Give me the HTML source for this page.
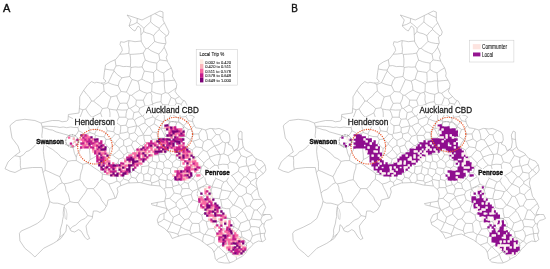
<!DOCTYPE html>
<html><head><meta charset="utf-8"><style>
html,body{margin:0;padding:0;background:#fff;}
svg{display:block;}
</style></head><body>
<svg width="550" height="269" viewBox="0 0 550 269">
<defs><filter id="bl" x="-5%" y="-5%" width="110%" height="110%"><feGaussianBlur stdDeviation="0.4"/></filter></defs>
<rect width="550" height="269" fill="#fff"/>
<g transform="translate(0,0)">
<path d="M260.3 233.7 260.3 233.6M264.8 233.3 260.3 233.6M260.3 233.7 260.6 237.6 261.9 241.6M14.9 155.7 20 156.7M20 156.7 20.4 160.4 20.3 165.7 21 169.4M45.1 170.2 48.2 171.4 52.9 173.6 55.9 175 59.7 176.6M59.7 176.6 61.9 172.6 63.3 169.4 66 165.2 67.8 161.4M45.1 170.2 45.2 166.4 45.1 162.1 44.2 158.6 43.7 154.8 43.3 151.2 43.7 146.5 43 143.1M67.8 161.4 64.7 158.9 61.1 157.3 58.4 154.1 55.6 151.9 52.8 149.6 48.6 147.3 45.9 145.3 43 143.1M20 156.7 23.6 154.7 26.1 151.7 29 150.7 32.5 148.1 35.2 145.1 39.3 143.6 42.1 141.3M45.1 170.2 43.1 172.5M43 143.1 42.1 141.3M254.6 164.3 251 165.1 247.9 166.4M254.6 164.3 256.2 166.8 258.8 170M258.8 170 255.6 173.2M255.6 173.2 249.5 172.2M249.5 172.2 247.9 166.4M247 165.8 247.9 166.4M246.6 157.5 246.2 162.1 247 165.8M246.6 157.5 252.4 154.8M256.4 158.7 254.6 164.3M264.9 164.9 262.1 167 259.4 170M259.4 170 258.8 170M241.1 155.6 238.8 150.5M246.6 157.5 241.1 155.6M243.5 146.9 238.8 150.5M64.1 183.8 62.2 182.8M64.1 183.8 65.5 187 65.9 191 68 193.9 69.1 197.6 69.9 201.6M62.2 182.8 58.9 184.3 56.2 187.2 53.5 189.4 50.3 190.7 47.7 193M49.7 201.6 53.1 203.1 57.7 203.2 60.9 204.1 64.7 205.2M64.7 205.2 69.9 201.6M59.7 176.6 62.2 182.8M57.3 240.8 59.6 237.4M59.6 237.4 60.4 233.2 60.2 230.1 61 227.1 62.2 223.1 62.6 219.7 63.4 216.4 63.2 212.5 63.7 208.7 64.7 205.2M83.7 90.3 86.7 94.3 89.3 96.9 91.6 101M104.1 91 103.5 84.6M101 83 103.5 84.6M104.1 91 101.3 93.1 99.5 95.7 95.9 98.5 93.6 101.2M91.6 101 93.6 101.2M42.3 139.9 45.4 141 49.7 140.9 53.2 141.5 56.9 142.4 59.9 142.9 64.1 144.3 67.5 145 71.3 145.5M42.1 141.3 42.3 139.9M76.3 160.6 71.9 160.6 67.8 161.4M76.3 160.6 76.3 157.4M76.3 157.4 74.4 153.3 73.5 149 71.3 145.5M76.3 157.4 77.3 153.8 79.9 150.6 81 145.9 82.3 142.8M71.3 145.5 75.5 140.7M75.5 140.7 79.2 142 82.3 142.8M163 17.7 158.5 15.6 154.8 13.6M225.4 142.9 222.8 141.8M225.4 142.9 229 142.1M222.8 141.8 220.7 138.7 219.6 134.8M224 130.4 219.6 134.8M236 149.6 236 149.5M228 155.7 232.3 153 236 149.6M223.8 153.8 224.6 149.9 225.2 146.3 225.4 142.9M228 155.7 223.8 153.8M236 149.6 238.8 150.5M242.2 139.6 238.5 138.7M212.3 128.6 216.1 134.5M216.1 134.5 219.6 134.8M249.5 172.2 246 176.8M255.6 173.2 256 178.2M246 176.8 250.5 181.7M256 178.2 250.5 181.7M245.2 253.4 241.2 249.3M241.2 249.3 235.5 253.4M236.7 259.3 235.5 253.4M241.2 249.3 241.2 248.4M236.2 242.3 238.2 245.2 241.2 248.4M229.1 251.9 235.5 253.4M236.2 242.3 234.8 242.1M229.1 251.9 230 245.4M234.8 242.1 230 245.4M102.4 108.5 99.5 105.8 96.7 103.7 93.6 101.2M102.4 108.5 107.6 107.8M104.1 91 107.2 94.1 110.9 96.9M110.9 96.9 109.6 100.8 108.4 104.6 107.6 107.8M102.4 108.5 100.5 112.9M91.6 101 88.6 105.1 85.7 109M100.5 112.9 96.4 115.1 91.8 117.3M91.8 117.3 88.5 113.7 85.7 109M42.3 139.9 41.8 135.5 42.4 131 42.3 127.4M75.5 140.7 73.7 136.8M73.7 136.8 69.8 136.2 67.1 134.9 63.7 134 59.5 132.8 56.1 131.9 52.6 130.1 49.7 129.7 46.1 128.5 42.3 127.4M174.8 80.2 170 80.6 164.5 81.2M164.5 81.2 164.4 81.1M171.3 68 167.6 70 163.7 72.9M164.4 81.1 164.1 77.4 163.7 72.9M166.6 35.9 163.2 33.1 159.3 29.6M165.6 43.7 162 43.4 157.9 42.6 154.7 41.4M154.7 41.4 153.6 35.6M153.6 35.6 156.3 32.1 159.3 29.6M151 15.5 150.6 21.9M164.4 22.9 161.9 25.5 159.2 28.2M150.6 21.9 153.4 24.4 155.9 26.2 159.2 28.2M159.2 28.2 159.3 29.6M150.6 21.9 147.1 25.1 143.8 28.3M137.3 18.4 137 22.5M137 22.5 140.4 24.9 143.8 28.3M137 22.5 133.1 24.5 129.1 25.7M153.6 35.6 149.8 33.7 146.4 32.9 143.6 31.6M143.6 31.6 143.8 28.3M164.4 81.1 161.5 80.8 158 81.7 153.8 81.9M153.8 81.9 152 84.1M164.5 81.2 164.3 84.9 164.7 89.1 165.3 92.6M152 84.1 151.9 87.5 151.7 91.5M151.7 91.5 156.3 93.4 161.5 94.4M161.5 94.4 165.3 92.6M176.3 87.9 172.6 90.5 168.3 93.3M168.3 93.3 165.3 92.6M161.5 94.4 161.2 98.4 161 101.7M150.7 92.3 151.7 91.5M150.7 92.3 151.9 95.6 151.6 99.9 152.7 103.9M161 101.7 156.9 102.3 152.7 103.9M59.6 237.4 64 233.9M70.1 229.2 72.5 226.6 75.8 225 79 221.9 81.3 220.1 85.2 218.4 87.7 215.6M69.9 201.6 73.9 202.5 78.2 202.6M87.7 215.6 85.8 212.3 83.2 209 80.2 206 78.2 202.6M87.5 123.5 83.4 123.2 80.3 122.6M87.5 123.5 89.1 128.5 90 132.6M90 132.6 84.9 134.7M84.9 134.7 81.7 132.3 78.6 130.8M80.3 122.6 77.9 127.5M77.9 127.5 78.6 130.8M73.7 136.8 76.7 134.2 78.6 130.8M82.5 142.7 82.3 142.8M82.5 142.7 84.2 138.8 84.9 134.7M42.1 126.4 45.9 126.3 48.9 126.3 53.1 126.5 56.7 126.8 59.9 127.5 63.2 127 66.7 127.7 70.7 127 73.9 127.5 77.9 127.5M42.3 127.4 42.1 126.4M82.9 109.8 81.7 113.1 80.1 117.1 79.6 121M82.9 109.8 79.4 108.6M79.6 121 75.9 119.5 72.5 118.4 68.3 116.3M85.7 109 82.9 109.8M80.3 122.6 79.6 121M91.5 120 91.8 117.3M91.5 120 87.5 123.5M42.1 126.4 41.1 123M115 59.8 116 65.9M104.9 69 109.9 69.9 113.9 70.1M116 65.9 113.9 70.1M103.5 84.6 108.2 82.6M108.2 82.6 110.1 78.8 112 74.7 114.1 71M113.9 70.1 114.1 71M114.1 71 117.4 74.7 121.9 77.8M116 65.9 119.3 65.6 123.2 66.6 126.7 66.4 130.4 66.8M130.4 66.8 130.9 67.5M130.9 67.5 130.5 71.6 129.7 76.5M121.9 77.8 125.2 77.2 129.7 76.5M108.2 82.6 111.6 84.1 114.8 85 118.2 85.7M121.9 77.8 119.5 81.2 118.2 85.7M110.9 96.9 116.7 95.7M116.7 95.7 121 91.5M118.2 85.7 121 91.5M162.5 104.6 161 101.7M168.3 93.3 171.1 97.4M162.5 104.6 168.3 105M168.3 105 169.8 100.9 171.1 97.4M188.4 112.4 186 116.5M192.8 121.6 188.4 120.7M186 116.5 188.4 120.7M171.4 114.1 171.4 114.1M171.4 114.1 174.6 115.9 178.9 118.5M171.4 114.1 175.8 109.7M178.9 118.5 180.1 117.3M180.1 117.3 179.7 110.7M175.8 109.7 179.7 110.7M174.5 106 175.8 109.7M169.1 105.9 174.5 106M169 112.4 169.1 105.9M169 112.4 171.4 114.1M178.5 121.4 183.9 125.6M178.5 121.4 178.9 118.5M183.9 125.6 188.4 120.7M186 116.5 180.1 117.3M187.7 109.5 182.5 108.3M182.5 108.3 179.7 110.7M147.1 93.3 150.7 92.3M147.1 93.3 145.1 96.6 143.3 100.2M152.7 103.9 152.5 104.4M152.5 104.4 148.8 105.5 145 105.7M143.3 100.2 145 105.7M145 105.7 145 105.7M141.9 116 138.7 111.7M133.9 112.5 138.7 111.7M133.9 112.5 132.8 118.9M141.9 116 138 117.6 134.4 120M132.8 118.9 134.4 120M206.9 151.7 210.8 148.3 214.6 146M206.9 151.7 209.7 157M209.7 157 213 155.9 216.4 154.7 220 154.4M220 154.4 217.4 150.4 214.7 146.1M214.7 146.1 214.6 146M223.8 153.8 220.3 154.5M220.3 154.5 220 154.4M222.8 141.8 219 144.5 214.7 146.1M216.1 134.5 213.4 137.4 210.9 139.9M210.9 139.9 212.7 142.6 214.6 146M259.4 170 263.2 173.6M256 178.2 257.1 178.9M241.9 236.7 246.2 239.2 249.6 241.2M241.9 236.7 241.2 231.7M241.2 231.7 245.9 231 249.5 229.5M249.5 229.5 251.4 232.3 252.3 236.1M252.3 236.1 250.4 241.1M250.4 241.1 249.6 241.2M236.2 242.3 238.4 239.2 241.9 236.7M241.2 248.4 243.9 246.2 246.7 243.6 249.6 241.2M260.3 233.7 256.6 234.4 252.3 236.1M253.3 244.1 250.4 241.1M233.4 190.5 233.2 190.5M238.7 184.1 236.3 186.8 233.4 190.5M238.7 184.1 236.1 181.6 234.3 178.3 231.7 175.6M226.6 180.8 228.6 184.4 230.8 186.7 233.2 190.5M226.6 180.8 229.5 175.6M229.5 175.6 231.7 175.6M244.1 176.9 241.3 179.9 239.1 184.1M244.1 176.9 241.6 173.7 238.3 171.3M239.1 184.1 238.7 184.1M231.7 175.6 235.6 173.1 238.3 171.3M228 155.7 230.1 161.9M241.1 155.6 238.6 159.6 236.5 163.3M230.1 161.9 236.5 163.3M247 165.8 242.8 166.5 239.2 167.5M236.5 163.3 239.2 167.5M246 176.8 244.1 176.9M239.2 167.5 238.3 171.3M199.9 232 204.1 234.6M204.1 234.6 202.9 238.1 202.7 241.8M190.7 235.2 191.3 233.7M199.9 232 195 232.5 191.3 233.7M208.3 229.1 204.9 234.3M208.3 229.1 213.9 228.5M204.9 234.3 210.1 235.7 214.4 237.6M213.9 228.5 215.6 231.7 217.9 234.5M214.4 237.6 217.9 234.7M217.9 234.5 217.9 234.7M207 245 211 243.5 214 242.5M214 242.5 214.4 237.6M204.1 234.6 204.9 234.3M143.3 100.2 136.4 100.1M139.7 108.1 145 105.7M139.7 108.1 135.7 105.1M136.4 100.1 135.7 105.1M138.7 111.7 139.7 108.1M133.9 112.5 130.1 108.4M135.7 105.1 130.1 108.4M119.9 54.2 124.2 54 128.8 53.4M128.8 53.4 129.2 49.3 128.5 44.5 128.9 40.7M130.4 66.8 130.6 62.9 130.6 58.9 130 54.4M128.8 53.4 130 54.4M143.6 31.6 141 34.9M152 84.1 148.5 82 145.7 81.1 141.8 79.2M153.8 81.9 153.8 77.4 153.5 72.5M141.8 79.2 143 74.9 144.4 71.1M144.4 71.1 149 71.8 153.5 72.5M163.7 72.9 160.4 71.8 156.7 69.5M153.5 72.5 156.7 69.5M137.9 81.1 139.2 85.5 139.6 90.1M137.9 81.1 132.1 79.5M132.1 79.5 130 84.2 128.2 88.3 126.4 92.1M139.6 90.1 135.2 92.6 131.7 95.3M126.4 92.1 129.7 95.1M131.7 95.3 129.7 95.1M147.1 93.3 143.4 92.1 139.6 90.1M141.8 79.2 137.9 81.1M130.9 67.5 135.1 66.9 138.5 67.2 142.1 66.9M129.7 76.5 132.1 79.5M144.4 71.1 142.1 66.9M121 91.5 126.4 92.1M136.4 100.1 131.7 95.3M162.5 104.6 160.6 110.2M152.5 104.4 154.2 108.8M160.6 110.2 154.2 108.8M188.3 129.5 184.2 126.8M188.3 129.5 186.6 133.4 185.8 136.5M184.2 126.8 181.9 129.9 179.4 131.9M179.4 131.9 183.7 136.6M185.8 136.5 183.7 136.6M194.3 125.4 190.8 129.2M190.8 129.2 188.3 129.5M183.9 125.6 184.2 126.8M174.7 129 176.7 122.7M176.7 122.7 178.5 121.4M177.3 131.9 179.4 131.9M177.3 131.9 174.7 129M174.7 136.7 177.8 141.3M177.3 131.9 174.7 136.7M177.8 141.3 179.7 141.6M179.7 141.6 183.7 136.6M175.1 99.1 176.4 103.1M175.1 99.1 179.3 96.6M176.4 103.1 181.2 104.2M183.7 100.5 181.2 104.2M168.3 105 169.1 105.9M171.1 97.4 175.1 99.1M174.5 106 176.4 103.1M182.5 108.3 181.2 104.2M145.1 119.7 148.6 118.4 152.9 116.9M145.1 119.7 142.9 116.3M142.9 116.3 146.7 111.3M146.7 111.3 151.5 112.6M151.5 112.6 152.9 116.9M141.9 116 142.9 116.3M145 105.7 146.7 111.3M154.2 108.8 151.5 112.6M89.5 145.7 93.8 142.8M89.5 145.7 89.5 150.5 90 155 90.1 159.5M93.8 142.8 96.6 144.9 99.8 147M99.8 147 99.8 151.2 100.1 154.4M90.1 159.5 93.4 157.8 96.5 155.8 100.1 154.4M210.9 139.9 207.7 139.4M205.5 130 207.1 134.4 207.7 139.4M227.7 198.3 230.9 201.8 233.2 205.2M227.7 198.3 229.8 194.6 230.9 191.7M230.9 191.7 233.2 190.5M233.4 190.5 236.6 193.7 238.8 196.2M233.2 205.2 233.7 205.1M238.8 196.2 236.3 200.9 233.7 205.1M239.1 184.1 242.9 185.8 246.1 187.7M250.5 181.7 250.4 183.6M246.1 187.7 250.4 183.6M257.4 188.6 257.3 188.6M250.4 183.6 254 185.8 257.3 188.6M235.5 217.5 238.4 214.5 242.4 211M240.7 223 238.1 220.7 235.5 217.5M240.7 223 244 221.9 247.9 220.1M247.9 220.1 246.6 217.6 244.8 213.6 242.4 211M229.7 208.6 233.2 205.2M229.7 208.6 230 212.7 231.1 217.5M231.1 217.5 235.5 217.5M233.7 205.1 238 206.9 242.5 209.7M242.4 211 242.5 209.7M226.5 229.2 230.6 225.3M226.5 229.2 229 235M230.6 225.3 234.1 226.8 238.3 229.4M238.3 229.4 235.5 232.4 231.6 235.8M231.6 235.8 229 235M223.7 239.1 221 236.8 217.9 234.7M223.4 228.8 221 232 217.9 234.5M223.7 239.1 229 235M223.4 228.8 226.5 229.2M238.4 229.4 240.7 223M231.1 217.5 230 218.7M230 218.7 230.6 225.3M238.4 229.4 238.3 229.4M238.4 229.4 241.2 231.7M234.8 242.1 233 239 231.6 235.8M223.9 241.9 223.7 239.1M230 245.4 223.9 241.9M209.3 169.5 211.7 167.1 215 165.2M209.3 169.5 206.1 167.1 203.5 165.2M215 165.2 212 161.8 209.5 158.2M209.5 158.2 206.5 160.3 203.9 162.9M203.5 165.2 203.9 162.9M227.9 164.5 228.4 168.6 228.1 173.9M227.9 164.5 222.7 164.2 218.6 164.9M228.1 173.9 224.3 173.1 219.6 172M219.6 172 217.9 165.5M218.6 164.9 217.9 165.5M229.5 175.6 228.1 173.9M230.1 161.9 227.9 164.5M220.3 154.5 220 158.5 218.8 161.9 218.6 164.9M209.7 157 209.5 158.2M215 165.2 217.9 165.5M213.9 252.2 218.1 246.9M216.4 260.1 219.3 258.2 223.1 256.6 226.1 254.4M226.1 254.4 226.2 254M226.2 254 222.2 250.4 218.7 246.9M218.7 246.9 218.1 246.9M214 242.5 218.1 246.9M229.8 262.8 227.4 258.3 226.1 254.4M229.1 251.9 226.2 254M223.9 241.9 221.9 244.9 218.7 246.9M127 109.9 128.8 108.2M127 109.9 122.1 110.1 117 109.6M128.8 108.2 127 103.3M127 103.3 123.9 103.1 119.9 103.4M117 109.6 119.9 103.4M129.7 95.1 129 99.1 127 103.3M130.1 108.4 128.8 108.2M116.7 95.7 117.9 99.6 119.9 103.4M116.5 110 113 109.7 109.3 109M116.5 110 117 109.6M107.6 107.8 109.3 109M136.6 125.8 134.4 120M144.9 123.1 145.1 119.7M144.9 123.1 141.9 124.1 138.5 126.2M136.6 125.8 136.8 126M138.5 126.2 136.8 126M143.3 53.1 145.8 48.8M143.3 53.1 144.4 57.1 145.3 60.1M145.3 60.1 149.3 61.7 152.9 62.5 156.8 63.1M147.8 48.3 151 50.7 155.1 52.6 158.8 54.1M147.8 48.3 145.8 48.8M158.8 54.1 159.8 59.9M159.8 59.9 156.8 63.1M130 54.4 134.2 54.2 139.3 53.8 143.3 53.1M141 41 143.5 45.5 145.8 48.8M142.1 66.9 143.2 63 145.3 60.1M156.7 69.5 156.8 63.1M164.2 47.3 161.5 51.3 158.8 54.1M154.7 41.4 151.5 44.6 147.8 48.3M167.4 61 163.2 60.4 159.8 59.9M138.5 126.2 140.9 130.1 143.3 134.2M144.9 123.1 148.6 126.5M148.6 126.5 146.1 130.1 143.3 134.2M170.2 129.2 169 128.1M174.7 129 170.2 129.2M176.7 122.7 173.5 121.7 169.3 121.3M169 128.1 169.3 121.3M171.4 114.1 169.7 117.3 168.9 120.9M168.9 120.9 169.3 121.3M168.9 120.9 164.3 120.4M169 112.4 163.3 113.1M163.3 113.1 164.4 116.3 164.3 120.4M160.6 110.2 161.2 111.8M163.3 113.1 161.2 111.8M152.9 116.9 155.3 118.4M161.2 111.8 158 115.6 155.3 118.4M104.2 136.8 99.6 136.5 95.4 135.3M104.2 136.8 107.2 130.7M107.2 130.7 105.6 125.4M94.6 134.1 95.4 135.3M94.6 134.1 96.4 130.1 99.2 125.2M99.2 125.2 103.6 123.7M105.6 125.4 103.9 123.8M103.6 123.7 103.9 123.8M82.5 142.7 85.7 143.8 89.5 145.7M90 132.6 94.6 134.1M93.8 142.8 94.9 139.7 95.4 135.3M91.5 120 95.9 122.9 99.2 125.2M100.5 112.9 102 117.1 102.6 119.6 103.6 123.7M109.3 109 110 113.2 109.9 117.6M109.9 117.6 106.7 120.7 103.9 123.8M99.8 147 105.2 143.2M104.2 136.8 105.9 139.4M105.2 143.2 105.9 139.4M105.6 125.4 110 124.1 115.6 124.1M107.2 130.7 113.7 131.8M113.7 131.8 114.4 128 115.6 124.1M229.7 208.6 226.2 208.7 222 207.7M227.7 198.3 224.5 199.5 220.6 199.6M220.6 199.6 221.5 203.9 222 207.7M191.3 233.7 189.9 230.8M199.9 232 199.6 227.3 199 223.5M189.9 230.8 190.6 227.4 192.3 223.3M199 223.5 192.3 223.3M198.7 133.9 199.7 138.9M198.7 133.9 193.7 134.1M199.7 138.9 196 140.4 193.1 141.2M193.7 134.1 190.3 139.7M193.1 141.2 190.4 140.1M190.3 139.7 190.4 140.1M201.9 128.9 198.7 133.9M203.5 141.8 199.7 138.9M207.7 139.4 203.5 141.8M190.8 129.2 193.7 134.1M185.8 136.5 190.3 139.7M179.7 141.6 182.2 145.4M182.2 145.4 186.3 146.6M186.3 146.6 188.3 142.8 190.4 140.1M177.8 152.4 177.5 150.7M182.2 145.4 177.5 150.7M186.3 146.6 186.4 146.8M183 154.7 184.6 153.9M183 154.7 177.8 152.4M186.4 146.8 185.6 150.3 184.6 153.9M246.1 187.7 246.6 193M257.3 188.6 253.7 191.4 251 194.7M251 194.7 246.6 193M238.8 196.2 241.5 196.4M242.5 209.7 246.6 206.3M246.6 206.3 244.7 202.8 243.4 199.3 241.5 196.4M241.5 196.4 246.6 193M249.1 220.6 251.3 219.1M249.1 220.6 250.7 226.7M251.3 219.1 255.9 219.6 260.7 219.9M250.7 226.7 255.5 226.7 259.3 227.6M259.3 227.6 262.1 223.6M262.1 223.6 260.7 219.9M249.5 229.5 250.7 226.7M247.9 220.1 249.1 220.6M260.3 233.6 259.3 227.6M264.2 224.1 262.1 223.6M262.2 216 265.7 214.5M262.2 216 260.7 219.9M209.3 169.5 209.3 174M219.6 172 215.5 177.2M215.5 177.2 209.3 174M223.8 182 219.3 179.8 215.8 178.4M226.6 180.8 223.8 182M215.5 177.2 215.8 178.4M221.8 190 221.1 188.8M221.8 190 220.3 193.9 219.5 198.7M221.1 188.8 216.1 187.5 212.2 187M212.2 187 210.8 190.9 210.1 194.9M210.1 194.9 213.7 198.3M219.5 198.7 213.7 198.3M230.9 191.7 226.5 190.7 221.8 190M223.8 182 222.1 184.9 221.1 188.8M220.6 199.6 219.5 198.7M215.8 178.4 213.7 182.1 212.1 186.6M212.1 186.6 212.2 187M178.6 236.2 177.9 234.2M189.9 230.8 185.3 229.3 180.8 227M180.8 227 179.6 230.3 177.9 234.2M177.9 234.2 173.9 232.8 171 232.2 167.6 231.5M136.8 126 134.7 132.7M143.3 134.2 143.3 134.9M143.3 134.9 138.4 136.3M134.7 132.7 138.4 136.3M154.1 123.8 157.5 125.9 160.4 129M154.1 123.8 155.4 118.8M155.4 118.8 158.8 120.4 162.8 121.6M162.8 121.6 161.7 128.3M161.7 128.3 161.2 128.8M161.2 128.8 160.4 129M156.8 132.4 152.7 132.1M149.4 126.7 152.7 132.1M149.4 126.7 154.1 123.8M156.8 132.4 160.4 129M148.6 126.5 149.4 126.7M155.3 118.4 155.4 118.8M164.3 120.4 162.8 121.6M169 128.1 165.4 128.3 161.7 128.3M190.6 156.3 184.6 153.9M190.6 156.3 187.3 161.8M183 154.7 182.2 160M182.2 160 187.3 161.8M87.7 215.6 92.5 216.6M100.1 154.4 104.4 154.9 107.8 156.3M105.2 143.2 107.1 146 109.7 148.6M107.8 156.3 109.5 155M109.5 155 109.7 148.6M118.8 159.1 115.8 157.6 112.6 155M123.1 157.6 118.8 159.1M123.1 157.6 123.9 155.1M123.9 155.1 122 152.5 119 149.6M112.6 155 116.1 152.5 119 149.6M134.7 132.7 129.4 134M129.4 134 127.8 131.9M136.6 125.8 131.8 126.9 127.9 127.7M127.9 127.7 127.8 131.9M222 207.7 220.8 208.9M230 218.7 225.8 218.6 222 218.8M220.8 208.9 221 213.3 222 218.8M223.4 228.8 221.6 225.3 218.9 221.3M222 218.8 218.9 221.3M213.9 228.5 215.9 224.7 217.3 221.4M217.3 221.4 218.9 221.3M192.8 155.6 192.2 150M192.8 155.6 195.6 157M195.6 157 197.8 156.6M197.8 156.6 200.5 153 203.3 150.2M192.2 150 195.9 146.8M195.9 146.8 202.1 147.8M203.3 150.2 202.1 147.8M186.4 146.8 192.2 150M190.6 156.3 192.8 155.6M194.1 165.2 192.6 166.4M192.6 166.4 188.4 164.6M188.4 164.6 187.3 161.8M194.1 165.2 195 161.5 195.6 157M203.9 162.9 201.2 160.3 197.8 156.6M201.8 166.3 197.7 166 194.1 165.2M203.5 165.2 201.8 166.3M206.9 151.7 203.3 150.2M193.1 141.2 195.9 146.8M203.5 141.8 202.1 147.8M250 205.9 251.2 202.8 253.3 199.7M250 205.9 254.3 209.9M254.3 209.9 257 210M257 210 260.1 206.9 264.1 203.6M261.5 199.4 257.5 199.4 253.3 199.7M251 194.7 253.3 199.7M246.6 206.3 250 205.9M251.3 219.1 252.6 214.8 254.3 209.9M262.2 216 259.6 212.9 257 210M209.3 174 204.8 176.9M212.1 186.6 206.8 184.2M204.8 176.9 205.3 180.2 206.8 184.2M204 196.1 201.3 193.1 197.8 189M210.1 194.9 204 196.1M206.8 184.2 202.2 186.7 198 188.4M197.8 189 198 188.4M188.6 218.7 190.7 215.2 191.9 212.4M188.6 218.7 184.7 219.6M179.9 209.4 179.3 214.1M179.9 209.4 183.3 208.4 187.2 206.9M191.9 212.4 189.3 210.2 187.2 206.9M179.3 214.1 181.9 217.1 184.7 219.6M192.3 223.3 188.6 218.7M180.8 227 180.5 225.8M184.7 219.6 182.9 222.4 180.5 225.8M140.7 145.4 135.8 141M140.7 145.4 138.1 148 134.7 151M134.7 151 131.4 145M135.8 141 133 141.4M131.4 145 133 141.4M135.8 141 138.4 136.3M129.4 134 129.1 137.8M133 141.4 129.1 137.8M152.2 139.4 150.4 135.4M152.2 139.4 150 142.9M145.2 142.7 150 142.9M145.2 142.7 144 138.5 143.8 135.4M143.8 135.4 150.4 135.4M143.3 134.9 143.8 135.4M142.6 145.6 145.2 142.7M140.7 145.4 142.6 145.6M152.7 132.1 150.4 135.4M184.4 167.7 180.2 166.2M188.4 164.6 184.4 167.7M182.2 160 180.9 160.9M180.9 160.9 180.2 166.2M177.8 141.3 172.7 145.3M177.5 150.7 173 147.3M172.7 145.3 173 147.3M76.3 160.6 79.5 162.6 82.8 164.3M64.1 183.8 67.8 183.2 71.7 182.2 75.4 180.5 80 179.7M80 179.7 80.3 175.8 81.2 171.9 82.5 168.2 82.8 164.3M78.2 202.6 80.6 199 83.1 195.6 85.3 192.6 87.3 188.6M80 179.7 82.5 182.6 84.6 186.2 87.3 188.6M106.2 206.4 104.4 203.8 101.6 200.4 100.3 197.2 98 194.6 95.2 191.4 93.4 188.6M87.3 188.6 93.4 188.6M90.1 159.5 87.5 163.2M82.8 164.3 87.5 163.2M105.9 139.4 110.5 139.3M113.7 131.8 115.5 134M110.5 139.3 112.5 136.9 115.5 134M126 125.2 120.7 125.7M126 125.2 127.9 119.2M125.9 117.2 127.9 119.2M125.9 117.2 119.1 117.2M120.7 125.7 116.8 123M119.1 117.2 116.8 121.2M116.8 121.2 116.8 123M120.1 133.3 120.7 128.9 120.7 125.7M120.1 133.3 123.7 132.9 127.8 131.9M127.9 127.7 126 125.2M132.8 118.9 127.9 119.2M127 109.9 126.1 113.6 125.9 117.2M116.5 110 118.2 113.7 119.1 117.2M115.5 134 118.8 134.8M120.1 133.3 118.8 134.8M115.6 124.1 116.8 123M109.9 117.6 112.9 119.9 116.8 121.2M164.3 154.5 166.9 159.6M166.9 159.6 163.4 162.3M159.5 153.9 158.5 155.1M158.5 155.1 159.5 161.1M164.3 154.5 159.5 153.9M163.4 162.3 159.5 161.1M213.7 198.3 212.8 202 211.1 205.6 210.1 209.1M220.8 208.9 216.3 209.1 212.1 210.3M210.1 209.1 212.1 210.3M217.3 221.4 214.4 219.7M212.1 210.3 212.8 214.4 214.4 219.7M208.3 229.1 206.9 225.1 206.4 221.6M214.4 219.7 210.6 220.7 206.4 221.6M199 223.5 202.7 219.7M206.4 221.6 202.7 219.7M187.3 206 190.2 203.4 192.8 199.9M187.3 206 184.1 201.7 181.9 197.7M182 196.7 181.9 197.7M182 196.7 186.1 195.5 191.2 194.5M191.2 194.5 192.8 199.9M176 203.2 178.4 199.9 181.9 197.7M176.3 206.4 176 203.2M179.9 209.4 176.3 206.4M187.2 206.9 187.3 206M169.7 198.3 174.2 193M169.7 198.3 172.3 200.6 176 203.2M174.2 193 180.4 194.2M180.4 194.2 182 196.7M182.2 188.8 186.1 188.5 189.3 188.6M182.2 188.8 180.4 194.2M189.3 188.6 192.6 191.3M192.6 191.3 191.2 194.5M193 178.9 196.5 181.8M193 178.9 196.6 173M196.5 181.8 200.5 178.9 203.9 176.7M196.6 173 200.1 172.6M200.1 172.6 203.9 176.7M204.8 176.9 203.9 176.7M198 188.4 196.5 181.8M201.8 166.3 200.1 172.6M192.6 168.4 192.6 166.4M192.6 168.4 196.6 173M192.8 178.9 188.2 183.4M192.8 178.9 187.5 174.6M187.5 174.6 185.6 174.4M184.4 182.3 183.7 175.5M184.4 182.3 188.2 183.4M185.6 174.4 183.7 175.5M189.3 188.6 188.2 183.4M192.6 191.3 197.8 189M193 178.9 192.8 178.9M192.6 168.4 189.8 171.4 187.5 174.6M184.4 167.7 185.6 174.4M179.1 184.7 177.7 180.7 177.3 176.7M179 175.3 177.3 176.7M180.7 185.4 179.1 184.7M180.7 185.4 184.4 182.3M179 175.3 183.7 175.5M182.2 188.8 180.7 185.4M179 175.3 178.2 172.1 177.3 168M177.3 168 180.2 166.2M173.3 217.2 172 222.2M173.3 217.2 170.4 214.1 168.5 210.2M164 219.1 164 213.2M164 219.1 167.7 220.9 171.2 222.6M171.2 222.6 172 222.2M166.8 209.9 166.9 209.8M168.5 210.2 166.9 209.8M179.3 214.1 173.3 217.2M180.5 225.8 175.7 224.4 172 222.2M176.3 206.4 172.1 208.4 168.5 210.2M157.9 222.6 161 221.4 164 219.1M167.1 230.9 169.2 227.3 171.2 222.6M157.4 202.4 156.6 206M164.8 200.6 165.4 204.7 166.6 208.4M166.9 209.7 166.9 209.8M165.2 198.9 169.7 198.3M172.3 162.8 176.3 159.5M172.3 162.8 168.3 159.6M168.3 159.6 171.3 154.8M176.3 159.5 175.7 154.9M175.7 154.9 171.3 154.8M172.8 166.6 172.3 162.8M172.8 166.6 177.3 168M180.9 160.9 176.3 159.5M164.3 154.5 167.1 151M169.3 151.2 167.1 151M166.9 159.6 168.3 159.6M169.3 151.2 171.3 154.8M177.8 152.4 175.7 154.9M173 147.3 169.3 151.2M174.7 136.7 169.5 137.2M172.7 145.3 170.1 143.6M170.1 143.6 169.5 137.2M161.2 128.8 163.3 132.7 165.2 136.5M170.2 129.2 169.5 132.8 168.5 136.4M165.2 136.5 168.5 136.4M169.5 137.2 168.5 136.4M124.6 167.3 127 172.5M124.6 167.3 126.7 164.9M126.7 164.9 130 166.4 133.6 167.6M127 172.5 130.3 173.7M130.3 173.7 133.6 170.2M133.6 167.6 133.6 170.2M118.8 159.1 118 162.9M118 162.9 121.9 167.6M123.1 157.6 127 161.9M121.9 167.6 124.6 167.3M127 161.9 126.7 164.9M123.6 140.4 123.7 145.3M123.6 140.4 119.9 137.8M119.9 137.8 117 140.7 115 143.5M123.7 145.3 119.3 147.9M119.3 147.9 115.1 144.3M115.1 144.3 115 143.5M131.4 145 126.2 146.8M129.1 137.8 123.6 140.4M126.2 146.8 123.7 145.3M118.8 134.8 119.9 137.8M110.5 139.3 115 143.5M119 149.6 119.3 147.9M127.4 152.6 126.2 146.8M123.9 155.1 127.4 152.6M109.5 155 112.6 155M109.7 148.6 115.1 144.3M127 161.9 132 159.3M133.6 167.6 136.9 164.1M136.9 164.1 132 159.3M127.4 152.6 133.3 153.8M132 159.3 133.3 153.8M134.7 151 134.4 153.1M134.4 153.1 133.3 153.8M142.6 145.6 144.1 149.1M150 142.9 153 147.2M153 147.2 150.7 150.9M144.1 149.1 150.7 150.9M134.4 153.1 137.9 154.3 141.5 156.1M144.1 149.1 142.8 152.8 141.5 156.1M136.9 164.1 138.9 163.8M138.9 163.8 140 160.1 142 157M141.5 156.1 142 157M209.9 209.1 205.3 212.2 201.8 215.1M209.9 209.1 206.6 206.1 204.2 203.8 201.5 201.3M201.5 201.3 199.4 202.3M199.4 202.3 197.4 207.6 196.7 211.8M196.7 211.8 201.8 215.1M210.1 209.1 209.9 209.1M202.7 219.7 201.8 215.1M204 196.1 201.5 201.3M192.8 199.9 199.4 202.3M191.9 212.4 196.7 211.8M163.5 145.8 163.8 145.4M163.5 145.8 159 147M163.8 145.4 163.4 141.8 163.6 138M158.5 146.7 159 147M158.5 146.7 157.5 143 157.1 139.1M163.6 138 158 138M158 138 157.1 139.1M167.1 151 163.5 145.8M170.1 143.6 163.8 145.4M159.5 153.9 159 147M165.2 136.5 163.6 138M153 147.2 158.5 146.7M152.2 139.4 157.1 139.1M156.8 132.4 158 138M128.7 180.6 131.4 177.2M128.7 180.6 129.2 183M131.4 177.2 135.8 178.3M135.8 178.3 138.1 182.6M130.3 173.7 131.4 177.2M123.5 179 123.2 176.1M127 172.5 123.2 176.1M123.5 179 128.7 180.6M120 182.4 123.5 179M120.9 185.7 120 182.4M133.6 170.2 139 173.4M139 173.4 135.8 178.3M121.9 167.6 118.4 171.2M123.2 176.1 118.5 173M118.4 171.2 118.5 173M118 162.9 114.2 164.5 110.7 166.7M118.4 171.2 114.5 169 110.7 166.7M107.8 156.3 108.1 161.7 108.2 166.6M108.2 166.6 110.7 166.7M87.5 163.2 90.2 164.8 93.1 167.1 96.5 169.3 99.1 171 102.2 173.5M108.2 166.6 105.3 169.6 102.2 173.5M144.4 157.5 147.8 156 151.1 154M144.4 157.5 146.9 160.1 149 163.4M152.3 161.1 152.5 155.3M152.3 161.1 149 163.4M152.5 155.3 151.1 154M142 157 144.4 157.5M150.7 150.9 151.1 154M158.5 155.1 152.5 155.3M159.5 161.1 157.2 162.5M157.2 162.5 152.3 161.1M143.9 180.2 141.6 182.9M143.9 180.2 150.3 180.9M151.6 185.2 151.8 182.9M151.8 182.9 150.3 180.9M148.5 165.8 141.8 166.6M148.5 165.8 149.1 166.8M149.1 166.8 147.7 173.2M141.8 166.6 141.1 172.8M147.7 173.2 143.6 174.6M141.1 172.8 143.6 174.6M149 163.4 148.5 165.8M138.9 163.8 141.8 166.6M155 169 149.1 166.8M156.5 168.1 155 169M157.2 162.5 156.5 168.1M151.4 175.4 154.6 174.2M155 169 154.6 174.2M151.4 175.4 147.7 173.2M139 173.4 141.1 172.8M150.3 180.9 151.4 175.4M143.9 180.2 143.6 174.6M117 181.1 116.1 175.6M117 181.1 112.8 183.1 108.9 184M116.1 175.6 111 175.4 106.9 174.8 102.4 174.2M108.9 184 105.3 181.2 102 179.2M102 179.2 102.4 174.2M120 182.4 117 181.1M118.5 173 116.1 175.6M115.2 198.2 113.7 194.1 112.5 191.5 110.4 187.6 108.9 184M102.2 173.5 102.4 174.2M93.4 188.6 96.3 186 98.6 182.1 102 179.2M151.8 182.9 155.1 182 158.7 180.4M160 186 158.7 180.4M158.9 177 154.6 174.2M158.9 177 159.2 179.4M158.7 180.4 159.2 179.4M158.9 177 162.5 173M156.5 168.1 162.4 169.6M162.5 173 162.4 169.6M163.4 162.3 164.2 167.7M164.2 167.7 162.4 169.6M172.8 166.6 170.6 168.6M164.2 167.7 170.6 168.6M163.8 189.2 165.9 187.7M159.2 179.4 165.8 180.7M165.9 187.7 165.8 180.7M174.2 193 172.3 187.6M165.9 187.7 172.3 187.6M179.1 184.7 173 186.5M172.3 187.6 173 186.5M167.1 175.4 170.5 172.9M167.1 175.4 167.3 179.5M167.3 179.5 171.8 180.5M170.5 172.9 175.4 176.9M175.4 176.9 171.8 180.5M162.5 173 167.1 175.4M170.6 168.6 170.5 172.9M165.8 180.7 167.3 179.5M173 186.5 171.8 180.5M177.3 176.7 175.4 176.9" fill="none" stroke="#b0b0b0" stroke-width="0.65"/>
<path d="M127 15 142 20 160 11 163 12 163 20 166 26 169 32 168 35 165 37 166 43 164 47 165.6 50 167.3 54.5 166.2 57.8 167.9 62.3 170 65.6 171.8 69 172.9 73.3 172.3 76.1 175 80.6 176.8 84.5 176.2 88.4 175 91.2 176.8 94 180 97.3 182.3 100 185 101 186.7 104.5 188.9 115 192.3 115.6 194.5 117.2 192.3 119 193 123 195.6 127.8 200 128.4 205.6 130 210 128.4 215.7 129 219 128.4 224.6 130.6 228 132.3 229.5 135 230 140 228 144 232 146 234 151 238 148 239 142 238 135 240 131 242 132 242 138 243 146 245 150 251 153 255 158 259 160 262 161 265 165 266 170 264 173 260 176 257 179 256 183 257 187 259.2 196.3 261.2 198.9 263.8 202.8 265.7 207.4 263.8 211.3 262.5 214.5 267 214.5 270.3 214.5 272.2 218.4 269.6 219.7 266.4 220.4 264.4 223 263.8 226.2 265.6 231 264.2 235 265.6 239.5 262.7 241.7 258.4 241 254 243.2 251 246.8 248.2 249 246 252.6 242.4 256.3 238 258.5 233.6 261.4 229.3 263 224.4 263 218.4 262 215.3 259 214.3 253 212.3 249 208.3 246 204.3 243 200.3 240 196.3 238 188.2 234 182.2 235 176.2 237 172.2 238.5 169.7 233.5 164.7 228.6 158.5 224.8 157.2 219.9 159.7 214.9 166 212.4 167.2 208.6 162.2 207.4 152.3 204.9 151 203.7 157.2 202.4 164.7 201.2 166 195 164.7 190 160 186 150 185 140 182.5 128 183 120 186 117 188 118 192 116 198 108 200 107 205 104 210 100 212.5 97 211 93.4 211 92.2 218.4 89.7 221 86 226 87.2 233.4 89.7 238.4 87.2 239.6 84.7 237 81 231 78.5 229.6 74.7 232 71 231 68.5 226 66.7 224.7 66 231 61 238.4 53.5 243.3 43.6 248.3 37.4 254.5 34.9 257 31.1 253.3 24.9 248.3 19.9 240.8 19.4 233.4 21.2 231 29.9 227.2 37.4 223.4 43.6 218.4 46 212.2 48.6 206 49.8 201 48.6 197 47.3 191 46 185 43.6 175 42 167.5 32.4 167.5 22.4 168.7 15 172.5 10 171.2 5 168.7 8 162 12 158 17 154 20 152 18 146 12 138 11 132 10 126 11.2 124.3 16.2 120.5 24.9 119.3 34.9 120.5 41 123 46 121.8 52.3 120.5 59 120.6 62 121.8 66.7 121.2 68 120 68.4 114.5 79 113 79.7 104.4 79.7 96.9 83.4 90.7 87.7 84.8 91.5 81.6 94.7 83 96.6 82.3 100.5 83 104.3 83 106 81 103.6 79 104.3 72.7 105.5 65 110 62 115.6 59.5 117.9 56.8 120 54 122.3 50.6 121.8 47.8 120 44.5 120.6 41.7 124 42.3 128.4 40.6 131.8 41.1 135 41.7 141.3 41 140.7 30 140.5 28 138 26 135 31 133 30 129 26 131 20Z" fill="none" stroke="#b0b0b0" stroke-width="0.65"/>
<path d="M64 207L66 209.5L67 214L66.6 219.5L65.2 218.5L64.6 213Z" fill="none" stroke="#b4b4b4" stroke-width="0.5"/>
</g>
<g transform="translate(273.3,0)">
<path d="M260.3 233.7 260.3 233.6M264.8 233.3 260.3 233.6M260.3 233.7 260.6 237.6 261.9 241.6M14.9 155.7 20 156.7M20 156.7 20.4 160.4 20.3 165.7 21 169.4M45.1 170.2 48.2 171.4 52.9 173.6 55.9 175 59.7 176.6M59.7 176.6 61.9 172.6 63.3 169.4 66 165.2 67.8 161.4M45.1 170.2 45.2 166.4 45.1 162.1 44.2 158.6 43.7 154.8 43.3 151.2 43.7 146.5 43 143.1M67.8 161.4 64.7 158.9 61.1 157.3 58.4 154.1 55.6 151.9 52.8 149.6 48.6 147.3 45.9 145.3 43 143.1M20 156.7 23.6 154.7 26.1 151.7 29 150.7 32.5 148.1 35.2 145.1 39.3 143.6 42.1 141.3M45.1 170.2 43.1 172.5M43 143.1 42.1 141.3M254.6 164.3 251 165.1 247.9 166.4M254.6 164.3 256.2 166.8 258.8 170M258.8 170 255.6 173.2M255.6 173.2 249.5 172.2M249.5 172.2 247.9 166.4M247 165.8 247.9 166.4M246.6 157.5 246.2 162.1 247 165.8M246.6 157.5 252.4 154.8M256.4 158.7 254.6 164.3M264.9 164.9 262.1 167 259.4 170M259.4 170 258.8 170M241.1 155.6 238.8 150.5M246.6 157.5 241.1 155.6M243.5 146.9 238.8 150.5M64.1 183.8 62.2 182.8M64.1 183.8 65.5 187 65.9 191 68 193.9 69.1 197.6 69.9 201.6M62.2 182.8 58.9 184.3 56.2 187.2 53.5 189.4 50.3 190.7 47.7 193M49.7 201.6 53.1 203.1 57.7 203.2 60.9 204.1 64.7 205.2M64.7 205.2 69.9 201.6M59.7 176.6 62.2 182.8M57.3 240.8 59.6 237.4M59.6 237.4 60.4 233.2 60.2 230.1 61 227.1 62.2 223.1 62.6 219.7 63.4 216.4 63.2 212.5 63.7 208.7 64.7 205.2M83.7 90.3 86.7 94.3 89.3 96.9 91.6 101M104.1 91 103.5 84.6M101 83 103.5 84.6M104.1 91 101.3 93.1 99.5 95.7 95.9 98.5 93.6 101.2M91.6 101 93.6 101.2M42.3 139.9 45.4 141 49.7 140.9 53.2 141.5 56.9 142.4 59.9 142.9 64.1 144.3 67.5 145 71.3 145.5M42.1 141.3 42.3 139.9M76.3 160.6 71.9 160.6 67.8 161.4M76.3 160.6 76.3 157.4M76.3 157.4 74.4 153.3 73.5 149 71.3 145.5M76.3 157.4 77.3 153.8 79.9 150.6 81 145.9 82.3 142.8M71.3 145.5 75.5 140.7M75.5 140.7 79.2 142 82.3 142.8M163 17.7 158.5 15.6 154.8 13.6M225.4 142.9 222.8 141.8M225.4 142.9 229 142.1M222.8 141.8 220.7 138.7 219.6 134.8M224 130.4 219.6 134.8M236 149.6 236 149.5M228 155.7 232.3 153 236 149.6M223.8 153.8 224.6 149.9 225.2 146.3 225.4 142.9M228 155.7 223.8 153.8M236 149.6 238.8 150.5M242.2 139.6 238.5 138.7M212.3 128.6 216.1 134.5M216.1 134.5 219.6 134.8M249.5 172.2 246 176.8M255.6 173.2 256 178.2M246 176.8 250.5 181.7M256 178.2 250.5 181.7M245.2 253.4 241.2 249.3M241.2 249.3 235.5 253.4M236.7 259.3 235.5 253.4M241.2 249.3 241.2 248.4M236.2 242.3 238.2 245.2 241.2 248.4M229.1 251.9 235.5 253.4M236.2 242.3 234.8 242.1M229.1 251.9 230 245.4M234.8 242.1 230 245.4M102.4 108.5 99.5 105.8 96.7 103.7 93.6 101.2M102.4 108.5 107.6 107.8M104.1 91 107.2 94.1 110.9 96.9M110.9 96.9 109.6 100.8 108.4 104.6 107.6 107.8M102.4 108.5 100.5 112.9M91.6 101 88.6 105.1 85.7 109M100.5 112.9 96.4 115.1 91.8 117.3M91.8 117.3 88.5 113.7 85.7 109M42.3 139.9 41.8 135.5 42.4 131 42.3 127.4M75.5 140.7 73.7 136.8M73.7 136.8 69.8 136.2 67.1 134.9 63.7 134 59.5 132.8 56.1 131.9 52.6 130.1 49.7 129.7 46.1 128.5 42.3 127.4M174.8 80.2 170 80.6 164.5 81.2M164.5 81.2 164.4 81.1M171.3 68 167.6 70 163.7 72.9M164.4 81.1 164.1 77.4 163.7 72.9M166.6 35.9 163.2 33.1 159.3 29.6M165.6 43.7 162 43.4 157.9 42.6 154.7 41.4M154.7 41.4 153.6 35.6M153.6 35.6 156.3 32.1 159.3 29.6M151 15.5 150.6 21.9M164.4 22.9 161.9 25.5 159.2 28.2M150.6 21.9 153.4 24.4 155.9 26.2 159.2 28.2M159.2 28.2 159.3 29.6M150.6 21.9 147.1 25.1 143.8 28.3M137.3 18.4 137 22.5M137 22.5 140.4 24.9 143.8 28.3M137 22.5 133.1 24.5 129.1 25.7M153.6 35.6 149.8 33.7 146.4 32.9 143.6 31.6M143.6 31.6 143.8 28.3M164.4 81.1 161.5 80.8 158 81.7 153.8 81.9M153.8 81.9 152 84.1M164.5 81.2 164.3 84.9 164.7 89.1 165.3 92.6M152 84.1 151.9 87.5 151.7 91.5M151.7 91.5 156.3 93.4 161.5 94.4M161.5 94.4 165.3 92.6M176.3 87.9 172.6 90.5 168.3 93.3M168.3 93.3 165.3 92.6M161.5 94.4 161.2 98.4 161 101.7M150.7 92.3 151.7 91.5M150.7 92.3 151.9 95.6 151.6 99.9 152.7 103.9M161 101.7 156.9 102.3 152.7 103.9M59.6 237.4 64 233.9M70.1 229.2 72.5 226.6 75.8 225 79 221.9 81.3 220.1 85.2 218.4 87.7 215.6M69.9 201.6 73.9 202.5 78.2 202.6M87.7 215.6 85.8 212.3 83.2 209 80.2 206 78.2 202.6M87.5 123.5 83.4 123.2 80.3 122.6M87.5 123.5 89.1 128.5 90 132.6M90 132.6 84.9 134.7M84.9 134.7 81.7 132.3 78.6 130.8M80.3 122.6 77.9 127.5M77.9 127.5 78.6 130.8M73.7 136.8 76.7 134.2 78.6 130.8M82.5 142.7 82.3 142.8M82.5 142.7 84.2 138.8 84.9 134.7M42.1 126.4 45.9 126.3 48.9 126.3 53.1 126.5 56.7 126.8 59.9 127.5 63.2 127 66.7 127.7 70.7 127 73.9 127.5 77.9 127.5M42.3 127.4 42.1 126.4M82.9 109.8 81.7 113.1 80.1 117.1 79.6 121M82.9 109.8 79.4 108.6M79.6 121 75.9 119.5 72.5 118.4 68.3 116.3M85.7 109 82.9 109.8M80.3 122.6 79.6 121M91.5 120 91.8 117.3M91.5 120 87.5 123.5M42.1 126.4 41.1 123M115 59.8 116 65.9M104.9 69 109.9 69.9 113.9 70.1M116 65.9 113.9 70.1M103.5 84.6 108.2 82.6M108.2 82.6 110.1 78.8 112 74.7 114.1 71M113.9 70.1 114.1 71M114.1 71 117.4 74.7 121.9 77.8M116 65.9 119.3 65.6 123.2 66.6 126.7 66.4 130.4 66.8M130.4 66.8 130.9 67.5M130.9 67.5 130.5 71.6 129.7 76.5M121.9 77.8 125.2 77.2 129.7 76.5M108.2 82.6 111.6 84.1 114.8 85 118.2 85.7M121.9 77.8 119.5 81.2 118.2 85.7M110.9 96.9 116.7 95.7M116.7 95.7 121 91.5M118.2 85.7 121 91.5M162.5 104.6 161 101.7M168.3 93.3 171.1 97.4M162.5 104.6 168.3 105M168.3 105 169.8 100.9 171.1 97.4M188.4 112.4 186 116.5M192.8 121.6 188.4 120.7M186 116.5 188.4 120.7M171.4 114.1 171.4 114.1M171.4 114.1 174.6 115.9 178.9 118.5M171.4 114.1 175.8 109.7M178.9 118.5 180.1 117.3M180.1 117.3 179.7 110.7M175.8 109.7 179.7 110.7M174.5 106 175.8 109.7M169.1 105.9 174.5 106M169 112.4 169.1 105.9M169 112.4 171.4 114.1M178.5 121.4 183.9 125.6M178.5 121.4 178.9 118.5M183.9 125.6 188.4 120.7M186 116.5 180.1 117.3M187.7 109.5 182.5 108.3M182.5 108.3 179.7 110.7M147.1 93.3 150.7 92.3M147.1 93.3 145.1 96.6 143.3 100.2M152.7 103.9 152.5 104.4M152.5 104.4 148.8 105.5 145 105.7M143.3 100.2 145 105.7M145 105.7 145 105.7M141.9 116 138.7 111.7M133.9 112.5 138.7 111.7M133.9 112.5 132.8 118.9M141.9 116 138 117.6 134.4 120M132.8 118.9 134.4 120M206.9 151.7 210.8 148.3 214.6 146M206.9 151.7 209.7 157M209.7 157 213 155.9 216.4 154.7 220 154.4M220 154.4 217.4 150.4 214.7 146.1M214.7 146.1 214.6 146M223.8 153.8 220.3 154.5M220.3 154.5 220 154.4M222.8 141.8 219 144.5 214.7 146.1M216.1 134.5 213.4 137.4 210.9 139.9M210.9 139.9 212.7 142.6 214.6 146M259.4 170 263.2 173.6M256 178.2 257.1 178.9M241.9 236.7 246.2 239.2 249.6 241.2M241.9 236.7 241.2 231.7M241.2 231.7 245.9 231 249.5 229.5M249.5 229.5 251.4 232.3 252.3 236.1M252.3 236.1 250.4 241.1M250.4 241.1 249.6 241.2M236.2 242.3 238.4 239.2 241.9 236.7M241.2 248.4 243.9 246.2 246.7 243.6 249.6 241.2M260.3 233.7 256.6 234.4 252.3 236.1M253.3 244.1 250.4 241.1M233.4 190.5 233.2 190.5M238.7 184.1 236.3 186.8 233.4 190.5M238.7 184.1 236.1 181.6 234.3 178.3 231.7 175.6M226.6 180.8 228.6 184.4 230.8 186.7 233.2 190.5M226.6 180.8 229.5 175.6M229.5 175.6 231.7 175.6M244.1 176.9 241.3 179.9 239.1 184.1M244.1 176.9 241.6 173.7 238.3 171.3M239.1 184.1 238.7 184.1M231.7 175.6 235.6 173.1 238.3 171.3M228 155.7 230.1 161.9M241.1 155.6 238.6 159.6 236.5 163.3M230.1 161.9 236.5 163.3M247 165.8 242.8 166.5 239.2 167.5M236.5 163.3 239.2 167.5M246 176.8 244.1 176.9M239.2 167.5 238.3 171.3M199.9 232 204.1 234.6M204.1 234.6 202.9 238.1 202.7 241.8M190.7 235.2 191.3 233.7M199.9 232 195 232.5 191.3 233.7M208.3 229.1 204.9 234.3M208.3 229.1 213.9 228.5M204.9 234.3 210.1 235.7 214.4 237.6M213.9 228.5 215.6 231.7 217.9 234.5M214.4 237.6 217.9 234.7M217.9 234.5 217.9 234.7M207 245 211 243.5 214 242.5M214 242.5 214.4 237.6M204.1 234.6 204.9 234.3M143.3 100.2 136.4 100.1M139.7 108.1 145 105.7M139.7 108.1 135.7 105.1M136.4 100.1 135.7 105.1M138.7 111.7 139.7 108.1M133.9 112.5 130.1 108.4M135.7 105.1 130.1 108.4M119.9 54.2 124.2 54 128.8 53.4M128.8 53.4 129.2 49.3 128.5 44.5 128.9 40.7M130.4 66.8 130.6 62.9 130.6 58.9 130 54.4M128.8 53.4 130 54.4M143.6 31.6 141 34.9M152 84.1 148.5 82 145.7 81.1 141.8 79.2M153.8 81.9 153.8 77.4 153.5 72.5M141.8 79.2 143 74.9 144.4 71.1M144.4 71.1 149 71.8 153.5 72.5M163.7 72.9 160.4 71.8 156.7 69.5M153.5 72.5 156.7 69.5M137.9 81.1 139.2 85.5 139.6 90.1M137.9 81.1 132.1 79.5M132.1 79.5 130 84.2 128.2 88.3 126.4 92.1M139.6 90.1 135.2 92.6 131.7 95.3M126.4 92.1 129.7 95.1M131.7 95.3 129.7 95.1M147.1 93.3 143.4 92.1 139.6 90.1M141.8 79.2 137.9 81.1M130.9 67.5 135.1 66.9 138.5 67.2 142.1 66.9M129.7 76.5 132.1 79.5M144.4 71.1 142.1 66.9M121 91.5 126.4 92.1M136.4 100.1 131.7 95.3M162.5 104.6 160.6 110.2M152.5 104.4 154.2 108.8M160.6 110.2 154.2 108.8M188.3 129.5 184.2 126.8M188.3 129.5 186.6 133.4 185.8 136.5M184.2 126.8 181.9 129.9 179.4 131.9M179.4 131.9 183.7 136.6M185.8 136.5 183.7 136.6M194.3 125.4 190.8 129.2M190.8 129.2 188.3 129.5M183.9 125.6 184.2 126.8M174.7 129 176.7 122.7M176.7 122.7 178.5 121.4M177.3 131.9 179.4 131.9M177.3 131.9 174.7 129M174.7 136.7 177.8 141.3M177.3 131.9 174.7 136.7M177.8 141.3 179.7 141.6M179.7 141.6 183.7 136.6M175.1 99.1 176.4 103.1M175.1 99.1 179.3 96.6M176.4 103.1 181.2 104.2M183.7 100.5 181.2 104.2M168.3 105 169.1 105.9M171.1 97.4 175.1 99.1M174.5 106 176.4 103.1M182.5 108.3 181.2 104.2M145.1 119.7 148.6 118.4 152.9 116.9M145.1 119.7 142.9 116.3M142.9 116.3 146.7 111.3M146.7 111.3 151.5 112.6M151.5 112.6 152.9 116.9M141.9 116 142.9 116.3M145 105.7 146.7 111.3M154.2 108.8 151.5 112.6M89.5 145.7 93.8 142.8M89.5 145.7 89.5 150.5 90 155 90.1 159.5M93.8 142.8 96.6 144.9 99.8 147M99.8 147 99.8 151.2 100.1 154.4M90.1 159.5 93.4 157.8 96.5 155.8 100.1 154.4M210.9 139.9 207.7 139.4M205.5 130 207.1 134.4 207.7 139.4M227.7 198.3 230.9 201.8 233.2 205.2M227.7 198.3 229.8 194.6 230.9 191.7M230.9 191.7 233.2 190.5M233.4 190.5 236.6 193.7 238.8 196.2M233.2 205.2 233.7 205.1M238.8 196.2 236.3 200.9 233.7 205.1M239.1 184.1 242.9 185.8 246.1 187.7M250.5 181.7 250.4 183.6M246.1 187.7 250.4 183.6M257.4 188.6 257.3 188.6M250.4 183.6 254 185.8 257.3 188.6M235.5 217.5 238.4 214.5 242.4 211M240.7 223 238.1 220.7 235.5 217.5M240.7 223 244 221.9 247.9 220.1M247.9 220.1 246.6 217.6 244.8 213.6 242.4 211M229.7 208.6 233.2 205.2M229.7 208.6 230 212.7 231.1 217.5M231.1 217.5 235.5 217.5M233.7 205.1 238 206.9 242.5 209.7M242.4 211 242.5 209.7M226.5 229.2 230.6 225.3M226.5 229.2 229 235M230.6 225.3 234.1 226.8 238.3 229.4M238.3 229.4 235.5 232.4 231.6 235.8M231.6 235.8 229 235M223.7 239.1 221 236.8 217.9 234.7M223.4 228.8 221 232 217.9 234.5M223.7 239.1 229 235M223.4 228.8 226.5 229.2M238.4 229.4 240.7 223M231.1 217.5 230 218.7M230 218.7 230.6 225.3M238.4 229.4 238.3 229.4M238.4 229.4 241.2 231.7M234.8 242.1 233 239 231.6 235.8M223.9 241.9 223.7 239.1M230 245.4 223.9 241.9M209.3 169.5 211.7 167.1 215 165.2M209.3 169.5 206.1 167.1 203.5 165.2M215 165.2 212 161.8 209.5 158.2M209.5 158.2 206.5 160.3 203.9 162.9M203.5 165.2 203.9 162.9M227.9 164.5 228.4 168.6 228.1 173.9M227.9 164.5 222.7 164.2 218.6 164.9M228.1 173.9 224.3 173.1 219.6 172M219.6 172 217.9 165.5M218.6 164.9 217.9 165.5M229.5 175.6 228.1 173.9M230.1 161.9 227.9 164.5M220.3 154.5 220 158.5 218.8 161.9 218.6 164.9M209.7 157 209.5 158.2M215 165.2 217.9 165.5M213.9 252.2 218.1 246.9M216.4 260.1 219.3 258.2 223.1 256.6 226.1 254.4M226.1 254.4 226.2 254M226.2 254 222.2 250.4 218.7 246.9M218.7 246.9 218.1 246.9M214 242.5 218.1 246.9M229.8 262.8 227.4 258.3 226.1 254.4M229.1 251.9 226.2 254M223.9 241.9 221.9 244.9 218.7 246.9M127 109.9 128.8 108.2M127 109.9 122.1 110.1 117 109.6M128.8 108.2 127 103.3M127 103.3 123.9 103.1 119.9 103.4M117 109.6 119.9 103.4M129.7 95.1 129 99.1 127 103.3M130.1 108.4 128.8 108.2M116.7 95.7 117.9 99.6 119.9 103.4M116.5 110 113 109.7 109.3 109M116.5 110 117 109.6M107.6 107.8 109.3 109M136.6 125.8 134.4 120M144.9 123.1 145.1 119.7M144.9 123.1 141.9 124.1 138.5 126.2M136.6 125.8 136.8 126M138.5 126.2 136.8 126M143.3 53.1 145.8 48.8M143.3 53.1 144.4 57.1 145.3 60.1M145.3 60.1 149.3 61.7 152.9 62.5 156.8 63.1M147.8 48.3 151 50.7 155.1 52.6 158.8 54.1M147.8 48.3 145.8 48.8M158.8 54.1 159.8 59.9M159.8 59.9 156.8 63.1M130 54.4 134.2 54.2 139.3 53.8 143.3 53.1M141 41 143.5 45.5 145.8 48.8M142.1 66.9 143.2 63 145.3 60.1M156.7 69.5 156.8 63.1M164.2 47.3 161.5 51.3 158.8 54.1M154.7 41.4 151.5 44.6 147.8 48.3M167.4 61 163.2 60.4 159.8 59.9M138.5 126.2 140.9 130.1 143.3 134.2M144.9 123.1 148.6 126.5M148.6 126.5 146.1 130.1 143.3 134.2M170.2 129.2 169 128.1M174.7 129 170.2 129.2M176.7 122.7 173.5 121.7 169.3 121.3M169 128.1 169.3 121.3M171.4 114.1 169.7 117.3 168.9 120.9M168.9 120.9 169.3 121.3M168.9 120.9 164.3 120.4M169 112.4 163.3 113.1M163.3 113.1 164.4 116.3 164.3 120.4M160.6 110.2 161.2 111.8M163.3 113.1 161.2 111.8M152.9 116.9 155.3 118.4M161.2 111.8 158 115.6 155.3 118.4M104.2 136.8 99.6 136.5 95.4 135.3M104.2 136.8 107.2 130.7M107.2 130.7 105.6 125.4M94.6 134.1 95.4 135.3M94.6 134.1 96.4 130.1 99.2 125.2M99.2 125.2 103.6 123.7M105.6 125.4 103.9 123.8M103.6 123.7 103.9 123.8M82.5 142.7 85.7 143.8 89.5 145.7M90 132.6 94.6 134.1M93.8 142.8 94.9 139.7 95.4 135.3M91.5 120 95.9 122.9 99.2 125.2M100.5 112.9 102 117.1 102.6 119.6 103.6 123.7M109.3 109 110 113.2 109.9 117.6M109.9 117.6 106.7 120.7 103.9 123.8M99.8 147 105.2 143.2M104.2 136.8 105.9 139.4M105.2 143.2 105.9 139.4M105.6 125.4 110 124.1 115.6 124.1M107.2 130.7 113.7 131.8M113.7 131.8 114.4 128 115.6 124.1M229.7 208.6 226.2 208.7 222 207.7M227.7 198.3 224.5 199.5 220.6 199.6M220.6 199.6 221.5 203.9 222 207.7M191.3 233.7 189.9 230.8M199.9 232 199.6 227.3 199 223.5M189.9 230.8 190.6 227.4 192.3 223.3M199 223.5 192.3 223.3M198.7 133.9 199.7 138.9M198.7 133.9 193.7 134.1M199.7 138.9 196 140.4 193.1 141.2M193.7 134.1 190.3 139.7M193.1 141.2 190.4 140.1M190.3 139.7 190.4 140.1M201.9 128.9 198.7 133.9M203.5 141.8 199.7 138.9M207.7 139.4 203.5 141.8M190.8 129.2 193.7 134.1M185.8 136.5 190.3 139.7M179.7 141.6 182.2 145.4M182.2 145.4 186.3 146.6M186.3 146.6 188.3 142.8 190.4 140.1M177.8 152.4 177.5 150.7M182.2 145.4 177.5 150.7M186.3 146.6 186.4 146.8M183 154.7 184.6 153.9M183 154.7 177.8 152.4M186.4 146.8 185.6 150.3 184.6 153.9M246.1 187.7 246.6 193M257.3 188.6 253.7 191.4 251 194.7M251 194.7 246.6 193M238.8 196.2 241.5 196.4M242.5 209.7 246.6 206.3M246.6 206.3 244.7 202.8 243.4 199.3 241.5 196.4M241.5 196.4 246.6 193M249.1 220.6 251.3 219.1M249.1 220.6 250.7 226.7M251.3 219.1 255.9 219.6 260.7 219.9M250.7 226.7 255.5 226.7 259.3 227.6M259.3 227.6 262.1 223.6M262.1 223.6 260.7 219.9M249.5 229.5 250.7 226.7M247.9 220.1 249.1 220.6M260.3 233.6 259.3 227.6M264.2 224.1 262.1 223.6M262.2 216 265.7 214.5M262.2 216 260.7 219.9M209.3 169.5 209.3 174M219.6 172 215.5 177.2M215.5 177.2 209.3 174M223.8 182 219.3 179.8 215.8 178.4M226.6 180.8 223.8 182M215.5 177.2 215.8 178.4M221.8 190 221.1 188.8M221.8 190 220.3 193.9 219.5 198.7M221.1 188.8 216.1 187.5 212.2 187M212.2 187 210.8 190.9 210.1 194.9M210.1 194.9 213.7 198.3M219.5 198.7 213.7 198.3M230.9 191.7 226.5 190.7 221.8 190M223.8 182 222.1 184.9 221.1 188.8M220.6 199.6 219.5 198.7M215.8 178.4 213.7 182.1 212.1 186.6M212.1 186.6 212.2 187M178.6 236.2 177.9 234.2M189.9 230.8 185.3 229.3 180.8 227M180.8 227 179.6 230.3 177.9 234.2M177.9 234.2 173.9 232.8 171 232.2 167.6 231.5M136.8 126 134.7 132.7M143.3 134.2 143.3 134.9M143.3 134.9 138.4 136.3M134.7 132.7 138.4 136.3M154.1 123.8 157.5 125.9 160.4 129M154.1 123.8 155.4 118.8M155.4 118.8 158.8 120.4 162.8 121.6M162.8 121.6 161.7 128.3M161.7 128.3 161.2 128.8M161.2 128.8 160.4 129M156.8 132.4 152.7 132.1M149.4 126.7 152.7 132.1M149.4 126.7 154.1 123.8M156.8 132.4 160.4 129M148.6 126.5 149.4 126.7M155.3 118.4 155.4 118.8M164.3 120.4 162.8 121.6M169 128.1 165.4 128.3 161.7 128.3M190.6 156.3 184.6 153.9M190.6 156.3 187.3 161.8M183 154.7 182.2 160M182.2 160 187.3 161.8M87.7 215.6 92.5 216.6M100.1 154.4 104.4 154.9 107.8 156.3M105.2 143.2 107.1 146 109.7 148.6M107.8 156.3 109.5 155M109.5 155 109.7 148.6M118.8 159.1 115.8 157.6 112.6 155M123.1 157.6 118.8 159.1M123.1 157.6 123.9 155.1M123.9 155.1 122 152.5 119 149.6M112.6 155 116.1 152.5 119 149.6M134.7 132.7 129.4 134M129.4 134 127.8 131.9M136.6 125.8 131.8 126.9 127.9 127.7M127.9 127.7 127.8 131.9M222 207.7 220.8 208.9M230 218.7 225.8 218.6 222 218.8M220.8 208.9 221 213.3 222 218.8M223.4 228.8 221.6 225.3 218.9 221.3M222 218.8 218.9 221.3M213.9 228.5 215.9 224.7 217.3 221.4M217.3 221.4 218.9 221.3M192.8 155.6 192.2 150M192.8 155.6 195.6 157M195.6 157 197.8 156.6M197.8 156.6 200.5 153 203.3 150.2M192.2 150 195.9 146.8M195.9 146.8 202.1 147.8M203.3 150.2 202.1 147.8M186.4 146.8 192.2 150M190.6 156.3 192.8 155.6M194.1 165.2 192.6 166.4M192.6 166.4 188.4 164.6M188.4 164.6 187.3 161.8M194.1 165.2 195 161.5 195.6 157M203.9 162.9 201.2 160.3 197.8 156.6M201.8 166.3 197.7 166 194.1 165.2M203.5 165.2 201.8 166.3M206.9 151.7 203.3 150.2M193.1 141.2 195.9 146.8M203.5 141.8 202.1 147.8M250 205.9 251.2 202.8 253.3 199.7M250 205.9 254.3 209.9M254.3 209.9 257 210M257 210 260.1 206.9 264.1 203.6M261.5 199.4 257.5 199.4 253.3 199.7M251 194.7 253.3 199.7M246.6 206.3 250 205.9M251.3 219.1 252.6 214.8 254.3 209.9M262.2 216 259.6 212.9 257 210M209.3 174 204.8 176.9M212.1 186.6 206.8 184.2M204.8 176.9 205.3 180.2 206.8 184.2M204 196.1 201.3 193.1 197.8 189M210.1 194.9 204 196.1M206.8 184.2 202.2 186.7 198 188.4M197.8 189 198 188.4M188.6 218.7 190.7 215.2 191.9 212.4M188.6 218.7 184.7 219.6M179.9 209.4 179.3 214.1M179.9 209.4 183.3 208.4 187.2 206.9M191.9 212.4 189.3 210.2 187.2 206.9M179.3 214.1 181.9 217.1 184.7 219.6M192.3 223.3 188.6 218.7M180.8 227 180.5 225.8M184.7 219.6 182.9 222.4 180.5 225.8M140.7 145.4 135.8 141M140.7 145.4 138.1 148 134.7 151M134.7 151 131.4 145M135.8 141 133 141.4M131.4 145 133 141.4M135.8 141 138.4 136.3M129.4 134 129.1 137.8M133 141.4 129.1 137.8M152.2 139.4 150.4 135.4M152.2 139.4 150 142.9M145.2 142.7 150 142.9M145.2 142.7 144 138.5 143.8 135.4M143.8 135.4 150.4 135.4M143.3 134.9 143.8 135.4M142.6 145.6 145.2 142.7M140.7 145.4 142.6 145.6M152.7 132.1 150.4 135.4M184.4 167.7 180.2 166.2M188.4 164.6 184.4 167.7M182.2 160 180.9 160.9M180.9 160.9 180.2 166.2M177.8 141.3 172.7 145.3M177.5 150.7 173 147.3M172.7 145.3 173 147.3M76.3 160.6 79.5 162.6 82.8 164.3M64.1 183.8 67.8 183.2 71.7 182.2 75.4 180.5 80 179.7M80 179.7 80.3 175.8 81.2 171.9 82.5 168.2 82.8 164.3M78.2 202.6 80.6 199 83.1 195.6 85.3 192.6 87.3 188.6M80 179.7 82.5 182.6 84.6 186.2 87.3 188.6M106.2 206.4 104.4 203.8 101.6 200.4 100.3 197.2 98 194.6 95.2 191.4 93.4 188.6M87.3 188.6 93.4 188.6M90.1 159.5 87.5 163.2M82.8 164.3 87.5 163.2M105.9 139.4 110.5 139.3M113.7 131.8 115.5 134M110.5 139.3 112.5 136.9 115.5 134M126 125.2 120.7 125.7M126 125.2 127.9 119.2M125.9 117.2 127.9 119.2M125.9 117.2 119.1 117.2M120.7 125.7 116.8 123M119.1 117.2 116.8 121.2M116.8 121.2 116.8 123M120.1 133.3 120.7 128.9 120.7 125.7M120.1 133.3 123.7 132.9 127.8 131.9M127.9 127.7 126 125.2M132.8 118.9 127.9 119.2M127 109.9 126.1 113.6 125.9 117.2M116.5 110 118.2 113.7 119.1 117.2M115.5 134 118.8 134.8M120.1 133.3 118.8 134.8M115.6 124.1 116.8 123M109.9 117.6 112.9 119.9 116.8 121.2M164.3 154.5 166.9 159.6M166.9 159.6 163.4 162.3M159.5 153.9 158.5 155.1M158.5 155.1 159.5 161.1M164.3 154.5 159.5 153.9M163.4 162.3 159.5 161.1M213.7 198.3 212.8 202 211.1 205.6 210.1 209.1M220.8 208.9 216.3 209.1 212.1 210.3M210.1 209.1 212.1 210.3M217.3 221.4 214.4 219.7M212.1 210.3 212.8 214.4 214.4 219.7M208.3 229.1 206.9 225.1 206.4 221.6M214.4 219.7 210.6 220.7 206.4 221.6M199 223.5 202.7 219.7M206.4 221.6 202.7 219.7M187.3 206 190.2 203.4 192.8 199.9M187.3 206 184.1 201.7 181.9 197.7M182 196.7 181.9 197.7M182 196.7 186.1 195.5 191.2 194.5M191.2 194.5 192.8 199.9M176 203.2 178.4 199.9 181.9 197.7M176.3 206.4 176 203.2M179.9 209.4 176.3 206.4M187.2 206.9 187.3 206M169.7 198.3 174.2 193M169.7 198.3 172.3 200.6 176 203.2M174.2 193 180.4 194.2M180.4 194.2 182 196.7M182.2 188.8 186.1 188.5 189.3 188.6M182.2 188.8 180.4 194.2M189.3 188.6 192.6 191.3M192.6 191.3 191.2 194.5M193 178.9 196.5 181.8M193 178.9 196.6 173M196.5 181.8 200.5 178.9 203.9 176.7M196.6 173 200.1 172.6M200.1 172.6 203.9 176.7M204.8 176.9 203.9 176.7M198 188.4 196.5 181.8M201.8 166.3 200.1 172.6M192.6 168.4 192.6 166.4M192.6 168.4 196.6 173M192.8 178.9 188.2 183.4M192.8 178.9 187.5 174.6M187.5 174.6 185.6 174.4M184.4 182.3 183.7 175.5M184.4 182.3 188.2 183.4M185.6 174.4 183.7 175.5M189.3 188.6 188.2 183.4M192.6 191.3 197.8 189M193 178.9 192.8 178.9M192.6 168.4 189.8 171.4 187.5 174.6M184.4 167.7 185.6 174.4M179.1 184.7 177.7 180.7 177.3 176.7M179 175.3 177.3 176.7M180.7 185.4 179.1 184.7M180.7 185.4 184.4 182.3M179 175.3 183.7 175.5M182.2 188.8 180.7 185.4M179 175.3 178.2 172.1 177.3 168M177.3 168 180.2 166.2M173.3 217.2 172 222.2M173.3 217.2 170.4 214.1 168.5 210.2M164 219.1 164 213.2M164 219.1 167.7 220.9 171.2 222.6M171.2 222.6 172 222.2M166.8 209.9 166.9 209.8M168.5 210.2 166.9 209.8M179.3 214.1 173.3 217.2M180.5 225.8 175.7 224.4 172 222.2M176.3 206.4 172.1 208.4 168.5 210.2M157.9 222.6 161 221.4 164 219.1M167.1 230.9 169.2 227.3 171.2 222.6M157.4 202.4 156.6 206M164.8 200.6 165.4 204.7 166.6 208.4M166.9 209.7 166.9 209.8M165.2 198.9 169.7 198.3M172.3 162.8 176.3 159.5M172.3 162.8 168.3 159.6M168.3 159.6 171.3 154.8M176.3 159.5 175.7 154.9M175.7 154.9 171.3 154.8M172.8 166.6 172.3 162.8M172.8 166.6 177.3 168M180.9 160.9 176.3 159.5M164.3 154.5 167.1 151M169.3 151.2 167.1 151M166.9 159.6 168.3 159.6M169.3 151.2 171.3 154.8M177.8 152.4 175.7 154.9M173 147.3 169.3 151.2M174.7 136.7 169.5 137.2M172.7 145.3 170.1 143.6M170.1 143.6 169.5 137.2M161.2 128.8 163.3 132.7 165.2 136.5M170.2 129.2 169.5 132.8 168.5 136.4M165.2 136.5 168.5 136.4M169.5 137.2 168.5 136.4M124.6 167.3 127 172.5M124.6 167.3 126.7 164.9M126.7 164.9 130 166.4 133.6 167.6M127 172.5 130.3 173.7M130.3 173.7 133.6 170.2M133.6 167.6 133.6 170.2M118.8 159.1 118 162.9M118 162.9 121.9 167.6M123.1 157.6 127 161.9M121.9 167.6 124.6 167.3M127 161.9 126.7 164.9M123.6 140.4 123.7 145.3M123.6 140.4 119.9 137.8M119.9 137.8 117 140.7 115 143.5M123.7 145.3 119.3 147.9M119.3 147.9 115.1 144.3M115.1 144.3 115 143.5M131.4 145 126.2 146.8M129.1 137.8 123.6 140.4M126.2 146.8 123.7 145.3M118.8 134.8 119.9 137.8M110.5 139.3 115 143.5M119 149.6 119.3 147.9M127.4 152.6 126.2 146.8M123.9 155.1 127.4 152.6M109.5 155 112.6 155M109.7 148.6 115.1 144.3M127 161.9 132 159.3M133.6 167.6 136.9 164.1M136.9 164.1 132 159.3M127.4 152.6 133.3 153.8M132 159.3 133.3 153.8M134.7 151 134.4 153.1M134.4 153.1 133.3 153.8M142.6 145.6 144.1 149.1M150 142.9 153 147.2M153 147.2 150.7 150.9M144.1 149.1 150.7 150.9M134.4 153.1 137.9 154.3 141.5 156.1M144.1 149.1 142.8 152.8 141.5 156.1M136.9 164.1 138.9 163.8M138.9 163.8 140 160.1 142 157M141.5 156.1 142 157M209.9 209.1 205.3 212.2 201.8 215.1M209.9 209.1 206.6 206.1 204.2 203.8 201.5 201.3M201.5 201.3 199.4 202.3M199.4 202.3 197.4 207.6 196.7 211.8M196.7 211.8 201.8 215.1M210.1 209.1 209.9 209.1M202.7 219.7 201.8 215.1M204 196.1 201.5 201.3M192.8 199.9 199.4 202.3M191.9 212.4 196.7 211.8M163.5 145.8 163.8 145.4M163.5 145.8 159 147M163.8 145.4 163.4 141.8 163.6 138M158.5 146.7 159 147M158.5 146.7 157.5 143 157.1 139.1M163.6 138 158 138M158 138 157.1 139.1M167.1 151 163.5 145.8M170.1 143.6 163.8 145.4M159.5 153.9 159 147M165.2 136.5 163.6 138M153 147.2 158.5 146.7M152.2 139.4 157.1 139.1M156.8 132.4 158 138M128.7 180.6 131.4 177.2M128.7 180.6 129.2 183M131.4 177.2 135.8 178.3M135.8 178.3 138.1 182.6M130.3 173.7 131.4 177.2M123.5 179 123.2 176.1M127 172.5 123.2 176.1M123.5 179 128.7 180.6M120 182.4 123.5 179M120.9 185.7 120 182.4M133.6 170.2 139 173.4M139 173.4 135.8 178.3M121.9 167.6 118.4 171.2M123.2 176.1 118.5 173M118.4 171.2 118.5 173M118 162.9 114.2 164.5 110.7 166.7M118.4 171.2 114.5 169 110.7 166.7M107.8 156.3 108.1 161.7 108.2 166.6M108.2 166.6 110.7 166.7M87.5 163.2 90.2 164.8 93.1 167.1 96.5 169.3 99.1 171 102.2 173.5M108.2 166.6 105.3 169.6 102.2 173.5M144.4 157.5 147.8 156 151.1 154M144.4 157.5 146.9 160.1 149 163.4M152.3 161.1 152.5 155.3M152.3 161.1 149 163.4M152.5 155.3 151.1 154M142 157 144.4 157.5M150.7 150.9 151.1 154M158.5 155.1 152.5 155.3M159.5 161.1 157.2 162.5M157.2 162.5 152.3 161.1M143.9 180.2 141.6 182.9M143.9 180.2 150.3 180.9M151.6 185.2 151.8 182.9M151.8 182.9 150.3 180.9M148.5 165.8 141.8 166.6M148.5 165.8 149.1 166.8M149.1 166.8 147.7 173.2M141.8 166.6 141.1 172.8M147.7 173.2 143.6 174.6M141.1 172.8 143.6 174.6M149 163.4 148.5 165.8M138.9 163.8 141.8 166.6M155 169 149.1 166.8M156.5 168.1 155 169M157.2 162.5 156.5 168.1M151.4 175.4 154.6 174.2M155 169 154.6 174.2M151.4 175.4 147.7 173.2M139 173.4 141.1 172.8M150.3 180.9 151.4 175.4M143.9 180.2 143.6 174.6M117 181.1 116.1 175.6M117 181.1 112.8 183.1 108.9 184M116.1 175.6 111 175.4 106.9 174.8 102.4 174.2M108.9 184 105.3 181.2 102 179.2M102 179.2 102.4 174.2M120 182.4 117 181.1M118.5 173 116.1 175.6M115.2 198.2 113.7 194.1 112.5 191.5 110.4 187.6 108.9 184M102.2 173.5 102.4 174.2M93.4 188.6 96.3 186 98.6 182.1 102 179.2M151.8 182.9 155.1 182 158.7 180.4M160 186 158.7 180.4M158.9 177 154.6 174.2M158.9 177 159.2 179.4M158.7 180.4 159.2 179.4M158.9 177 162.5 173M156.5 168.1 162.4 169.6M162.5 173 162.4 169.6M163.4 162.3 164.2 167.7M164.2 167.7 162.4 169.6M172.8 166.6 170.6 168.6M164.2 167.7 170.6 168.6M163.8 189.2 165.9 187.7M159.2 179.4 165.8 180.7M165.9 187.7 165.8 180.7M174.2 193 172.3 187.6M165.9 187.7 172.3 187.6M179.1 184.7 173 186.5M172.3 187.6 173 186.5M167.1 175.4 170.5 172.9M167.1 175.4 167.3 179.5M167.3 179.5 171.8 180.5M170.5 172.9 175.4 176.9M175.4 176.9 171.8 180.5M162.5 173 167.1 175.4M170.6 168.6 170.5 172.9M165.8 180.7 167.3 179.5M173 186.5 171.8 180.5M177.3 176.7 175.4 176.9" fill="none" stroke="#b0b0b0" stroke-width="0.65"/>
<path d="M127 15 142 20 160 11 163 12 163 20 166 26 169 32 168 35 165 37 166 43 164 47 165.6 50 167.3 54.5 166.2 57.8 167.9 62.3 170 65.6 171.8 69 172.9 73.3 172.3 76.1 175 80.6 176.8 84.5 176.2 88.4 175 91.2 176.8 94 180 97.3 182.3 100 185 101 186.7 104.5 188.9 115 192.3 115.6 194.5 117.2 192.3 119 193 123 195.6 127.8 200 128.4 205.6 130 210 128.4 215.7 129 219 128.4 224.6 130.6 228 132.3 229.5 135 230 140 228 144 232 146 234 151 238 148 239 142 238 135 240 131 242 132 242 138 243 146 245 150 251 153 255 158 259 160 262 161 265 165 266 170 264 173 260 176 257 179 256 183 257 187 259.2 196.3 261.2 198.9 263.8 202.8 265.7 207.4 263.8 211.3 262.5 214.5 267 214.5 270.3 214.5 272.2 218.4 269.6 219.7 266.4 220.4 264.4 223 263.8 226.2 265.6 231 264.2 235 265.6 239.5 262.7 241.7 258.4 241 254 243.2 251 246.8 248.2 249 246 252.6 242.4 256.3 238 258.5 233.6 261.4 229.3 263 224.4 263 218.4 262 215.3 259 214.3 253 212.3 249 208.3 246 204.3 243 200.3 240 196.3 238 188.2 234 182.2 235 176.2 237 172.2 238.5 169.7 233.5 164.7 228.6 158.5 224.8 157.2 219.9 159.7 214.9 166 212.4 167.2 208.6 162.2 207.4 152.3 204.9 151 203.7 157.2 202.4 164.7 201.2 166 195 164.7 190 160 186 150 185 140 182.5 128 183 120 186 117 188 118 192 116 198 108 200 107 205 104 210 100 212.5 97 211 93.4 211 92.2 218.4 89.7 221 86 226 87.2 233.4 89.7 238.4 87.2 239.6 84.7 237 81 231 78.5 229.6 74.7 232 71 231 68.5 226 66.7 224.7 66 231 61 238.4 53.5 243.3 43.6 248.3 37.4 254.5 34.9 257 31.1 253.3 24.9 248.3 19.9 240.8 19.4 233.4 21.2 231 29.9 227.2 37.4 223.4 43.6 218.4 46 212.2 48.6 206 49.8 201 48.6 197 47.3 191 46 185 43.6 175 42 167.5 32.4 167.5 22.4 168.7 15 172.5 10 171.2 5 168.7 8 162 12 158 17 154 20 152 18 146 12 138 11 132 10 126 11.2 124.3 16.2 120.5 24.9 119.3 34.9 120.5 41 123 46 121.8 52.3 120.5 59 120.6 62 121.8 66.7 121.2 68 120 68.4 114.5 79 113 79.7 104.4 79.7 96.9 83.4 90.7 87.7 84.8 91.5 81.6 94.7 83 96.6 82.3 100.5 83 104.3 83 106 81 103.6 79 104.3 72.7 105.5 65 110 62 115.6 59.5 117.9 56.8 120 54 122.3 50.6 121.8 47.8 120 44.5 120.6 41.7 124 42.3 128.4 40.6 131.8 41.1 135 41.7 141.3 41 140.7 30 140.5 28 138 26 135 31 133 30 129 26 131 20Z" fill="none" stroke="#b0b0b0" stroke-width="0.65"/>
<path d="M64 207L66 209.5L67 214L66.6 219.5L65.2 218.5L64.6 213Z" fill="none" stroke="#b4b4b4" stroke-width="0.5"/>
</g>
<g transform="translate(0,0)" fill="none" stroke="#8a8a8a" stroke-width="0.7" stroke-dasharray="0.01 1.5" stroke-linecap="round">
<circle cx="174.5" cy="131" r="9.5"/>
<circle cx="204.5" cy="194" r="7.3"/>
<circle cx="227" cy="225" r="7"/>
<circle cx="237" cy="246" r="9.5"/>
</g>
<g transform="translate(273.3,0)" fill="none" stroke="#8a8a8a" stroke-width="0.7" stroke-dasharray="0.01 1.5" stroke-linecap="round">
<circle cx="174.5" cy="131" r="9.5"/>
<circle cx="204.5" cy="194" r="7.3"/>
<circle cx="227" cy="225" r="7"/>
<circle cx="237" cy="246" r="9.5"/>
</g>
<g transform="translate(0,0)" filter="url(#bl)"><path d="M176.27 134.2h2.3v2.3h-2.3zM80.26 136.21h2.3v2.3h-2.3zM166.15 136.18h2.3v2.3h-2.3zM168.14 136.25h2.3v2.3h-2.3zM172.13 136.27h2.3v2.3h-2.3zM156.4 142.2h2.3v2.3h-2.3zM180.26 142.35h2.3v2.3h-2.3zM164.25 144.48h2.3v2.3h-2.3zM94.07 146.36h2.3v2.3h-2.3zM140.3 146.37h2.3v2.3h-2.3zM154.22 146.44h2.3v2.3h-2.3zM152.05 148.2h2.3v2.3h-2.3zM160.25 148.44h2.3v2.3h-2.3zM146.31 150.51h2.3v2.3h-2.3zM150.38 150.54h2.3v2.3h-2.3zM150.24 152.25h2.3v2.3h-2.3zM152.34 152.41h2.3v2.3h-2.3zM174.42 152.48h2.3v2.3h-2.3zM176.35 152.45h2.3v2.3h-2.3zM98.14 154.48h2.3v2.3h-2.3zM104.34 154.54h2.3v2.3h-2.3zM132.26 154.4h2.3v2.3h-2.3zM140.1 154.26h2.3v2.3h-2.3zM146.2 154.55h2.3v2.3h-2.3zM152.22 154.17h2.3v2.3h-2.3zM192.11 154.28h2.3v2.3h-2.3zM140.12 156.24h2.3v2.3h-2.3zM148.2 156.36h2.3v2.3h-2.3zM136.23 158.46h2.3v2.3h-2.3zM146.23 158.28h2.3v2.3h-2.3zM190.21 158.5h2.3v2.3h-2.3zM194.32 158.39h2.3v2.3h-2.3zM120.31 160.41h2.3v2.3h-2.3zM126.04 160.45h2.3v2.3h-2.3zM140.16 160.28h2.3v2.3h-2.3zM182.1 160.4h2.3v2.3h-2.3zM124.04 162.38h2.3v2.3h-2.3zM126.04 162.23h2.3v2.3h-2.3zM130.17 162.36h2.3v2.3h-2.3zM190.12 162.39h2.3v2.3h-2.3zM188.43 164.29h2.3v2.3h-2.3zM198.27 164.33h2.3v2.3h-2.3zM102.19 166.44h2.3v2.3h-2.3zM116.13 166.28h2.3v2.3h-2.3zM130.24 166.36h2.3v2.3h-2.3zM132.25 166.18h2.3v2.3h-2.3zM192.35 166.52h2.3v2.3h-2.3zM122.42 168.47h2.3v2.3h-2.3zM178.34 168.3h2.3v2.3h-2.3zM180.13 168.42h2.3v2.3h-2.3zM106.32 170.34h2.3v2.3h-2.3zM116.36 170.48h2.3v2.3h-2.3zM118.12 170.37h2.3v2.3h-2.3zM190.04 170.53h2.3v2.3h-2.3zM114.1 172.44h2.3v2.3h-2.3zM120.24 172.16h2.3v2.3h-2.3zM118.11 174.33h2.3v2.3h-2.3zM174.36 174.17h2.3v2.3h-2.3zM186.41 178.39h2.3v2.3h-2.3zM206.09 186.54h2.3v2.3h-2.3zM208.24 190.44h2.3v2.3h-2.3zM210.37 194.46h2.3v2.3h-2.3zM210.22 198.32h2.3v2.3h-2.3zM208.19 202.16h2.3v2.3h-2.3zM212.08 202.48h2.3v2.3h-2.3zM202.39 204.36h2.3v2.3h-2.3zM202.41 208.48h2.3v2.3h-2.3zM218.42 208.33h2.3v2.3h-2.3zM218.14 210.55h2.3v2.3h-2.3zM218.42 212.3h2.3v2.3h-2.3zM208.14 216.19h2.3v2.3h-2.3zM222.27 220.4h2.3v2.3h-2.3zM212.23 222.37h2.3v2.3h-2.3zM226.42 222.45h2.3v2.3h-2.3zM224.28 224.34h2.3v2.3h-2.3zM224.41 232.26h2.3v2.3h-2.3zM236.4 238.18h2.3v2.3h-2.3zM240.38 238.23h2.3v2.3h-2.3zM240.29 242.15h2.3v2.3h-2.3zM224.26 244.3h2.3v2.3h-2.3zM226.13 244.5h2.3v2.3h-2.3zM230.2 244.25h2.3v2.3h-2.3zM232.28 244.16h2.3v2.3h-2.3zM234.18 244.27h2.3v2.3h-2.3zM242.26 244.54h2.3v2.3h-2.3zM224.19 246.23h2.3v2.3h-2.3zM240.31 246.4h2.3v2.3h-2.3zM232.08 250.37h2.3v2.3h-2.3zM242.37 252.24h2.3v2.3h-2.3zM234.33 254.38h2.3v2.3h-2.3zM236.32 254.32h2.3v2.3h-2.3z" fill="#feebe2"/><path d="M164.04 126.51h2.3v2.3h-2.3zM168.1 128.47h2.3v2.3h-2.3zM172.08 134.22h2.3v2.3h-2.3zM178.43 136.37h2.3v2.3h-2.3zM90.06 138.29h2.3v2.3h-2.3zM92.21 140.17h2.3v2.3h-2.3zM154.32 140.44h2.3v2.3h-2.3zM168.32 140.17h2.3v2.3h-2.3zM84.16 142.43h2.3v2.3h-2.3zM96.39 142.37h2.3v2.3h-2.3zM86.41 144.16h2.3v2.3h-2.3zM152.11 144.39h2.3v2.3h-2.3zM88.13 146.21h2.3v2.3h-2.3zM102.25 146.38h2.3v2.3h-2.3zM180.41 146.29h2.3v2.3h-2.3zM94.08 148.52h2.3v2.3h-2.3zM156.3 148.38h2.3v2.3h-2.3zM172.37 148.31h2.3v2.3h-2.3zM92.13 150.34h2.3v2.3h-2.3zM100.1 150.25h2.3v2.3h-2.3zM102.38 150.43h2.3v2.3h-2.3zM136.18 150.52h2.3v2.3h-2.3zM140.33 150.22h2.3v2.3h-2.3zM142.15 150.25h2.3v2.3h-2.3zM162.05 150.41h2.3v2.3h-2.3zM106.39 152.5h2.3v2.3h-2.3zM136.2 152.41h2.3v2.3h-2.3zM144.43 152.24h2.3v2.3h-2.3zM146.22 152.25h2.3v2.3h-2.3zM188.31 152.42h2.3v2.3h-2.3zM190.34 152.16h2.3v2.3h-2.3zM102.34 154.2h2.3v2.3h-2.3zM178.18 154.38h2.3v2.3h-2.3zM180.14 154.32h2.3v2.3h-2.3zM188.18 154.24h2.3v2.3h-2.3zM106.32 156.44h2.3v2.3h-2.3zM108.11 156.53h2.3v2.3h-2.3zM136.08 156.51h2.3v2.3h-2.3zM144.26 156.38h2.3v2.3h-2.3zM188.27 156.22h2.3v2.3h-2.3zM106.21 158.48h2.3v2.3h-2.3zM124.07 158.41h2.3v2.3h-2.3zM134.39 158.25h2.3v2.3h-2.3zM192.31 158.3h2.3v2.3h-2.3zM98.14 160.39h2.3v2.3h-2.3zM104.13 160.17h2.3v2.3h-2.3zM130.38 160.42h2.3v2.3h-2.3zM138.13 160.53h2.3v2.3h-2.3zM190.22 160.41h2.3v2.3h-2.3zM100.25 162.29h2.3v2.3h-2.3zM106.31 162.45h2.3v2.3h-2.3zM128.27 162.48h2.3v2.3h-2.3zM188.36 162.44h2.3v2.3h-2.3zM122.28 164.46h2.3v2.3h-2.3zM134.32 164.28h2.3v2.3h-2.3zM192.42 164.51h2.3v2.3h-2.3zM120.32 166.32h2.3v2.3h-2.3zM190.23 166.4h2.3v2.3h-2.3zM194.2 166.41h2.3v2.3h-2.3zM106.17 168.42h2.3v2.3h-2.3zM110.24 168.46h2.3v2.3h-2.3zM114.15 168.17h2.3v2.3h-2.3zM124.37 168.17h2.3v2.3h-2.3zM108.23 172.31h2.3v2.3h-2.3zM110.11 172.16h2.3v2.3h-2.3zM182.25 172.45h2.3v2.3h-2.3zM184.08 172.46h2.3v2.3h-2.3zM186.1 172.42h2.3v2.3h-2.3zM172.27 174.4h2.3v2.3h-2.3zM188.18 174.53h2.3v2.3h-2.3zM182.36 176.29h2.3v2.3h-2.3zM184.07 176.24h2.3v2.3h-2.3zM184.19 178.22h2.3v2.3h-2.3zM204.16 188.35h2.3v2.3h-2.3zM206.16 194.16h2.3v2.3h-2.3zM198.27 196.34h2.3v2.3h-2.3zM200.12 200.48h2.3v2.3h-2.3zM206.43 200.23h2.3v2.3h-2.3zM204.14 206.34h2.3v2.3h-2.3zM212.09 206.49h2.3v2.3h-2.3zM208.04 208.36h2.3v2.3h-2.3zM210.11 208.49h2.3v2.3h-2.3zM212.05 208.49h2.3v2.3h-2.3zM206.24 210.16h2.3v2.3h-2.3zM214.24 210.5h2.3v2.3h-2.3zM210.36 212.53h2.3v2.3h-2.3zM216.04 212.41h2.3v2.3h-2.3zM224.42 214.52h2.3v2.3h-2.3zM212.37 216.54h2.3v2.3h-2.3zM214.13 216.21h2.3v2.3h-2.3zM220.28 216.34h2.3v2.3h-2.3zM208.1 218.44h2.3v2.3h-2.3zM214.27 218.36h2.3v2.3h-2.3zM218.27 218.2h2.3v2.3h-2.3zM220.22 220.16h2.3v2.3h-2.3zM224.34 220.46h2.3v2.3h-2.3zM220.35 222.21h2.3v2.3h-2.3zM214.11 226.18h2.3v2.3h-2.3zM222.17 228.34h2.3v2.3h-2.3zM230.35 228.5h2.3v2.3h-2.3zM232.34 230.16h2.3v2.3h-2.3zM222.18 232.5h2.3v2.3h-2.3zM216.1 234.43h2.3v2.3h-2.3zM218.35 234.37h2.3v2.3h-2.3zM220.41 234.25h2.3v2.3h-2.3zM230.07 234.38h2.3v2.3h-2.3zM230.42 236.42h2.3v2.3h-2.3zM236.27 236.48h2.3v2.3h-2.3zM238.41 238.2h2.3v2.3h-2.3zM226.37 240.51h2.3v2.3h-2.3zM230.08 240.36h2.3v2.3h-2.3zM234.18 240.19h2.3v2.3h-2.3zM228.38 244.37h2.3v2.3h-2.3zM240.4 244.4h2.3v2.3h-2.3zM230.39 246.18h2.3v2.3h-2.3zM236.26 246.16h2.3v2.3h-2.3zM226.4 248.16h2.3v2.3h-2.3zM230.31 248.5h2.3v2.3h-2.3zM240.16 250.38h2.3v2.3h-2.3zM238.43 252.35h2.3v2.3h-2.3zM73.6 140.4h2.3v2.3h-2.3zM72.6 137.6h2.3v2.3h-2.3z" fill="#fbb4b9"/><path d="M166.23 126.32h2.3v2.3h-2.3zM168.37 126.24h2.3v2.3h-2.3zM172.2 126.46h2.3v2.3h-2.3zM172.41 128.26h2.3v2.3h-2.3zM178.26 128.24h2.3v2.3h-2.3zM180.04 128.16h2.3v2.3h-2.3zM168.36 130.16h2.3v2.3h-2.3zM180.1 130.47h2.3v2.3h-2.3zM170.17 132.51h2.3v2.3h-2.3zM174.18 132.33h2.3v2.3h-2.3zM176.34 132.27h2.3v2.3h-2.3zM178.21 132.37h2.3v2.3h-2.3zM182.25 132.17h2.3v2.3h-2.3zM82.24 134.2h2.3v2.3h-2.3zM86.18 134.42h2.3v2.3h-2.3zM174.33 134.28h2.3v2.3h-2.3zM84.28 136.4h2.3v2.3h-2.3zM86.39 136.37h2.3v2.3h-2.3zM88.19 136.22h2.3v2.3h-2.3zM170.43 136.44h2.3v2.3h-2.3zM80.32 138.44h2.3v2.3h-2.3zM82.26 138.36h2.3v2.3h-2.3zM86.13 138.43h2.3v2.3h-2.3zM92.05 138.18h2.3v2.3h-2.3zM82.07 140.41h2.3v2.3h-2.3zM84.05 140.3h2.3v2.3h-2.3zM164.42 140.45h2.3v2.3h-2.3zM86.11 142.52h2.3v2.3h-2.3zM94.13 142.52h2.3v2.3h-2.3zM146.13 142.31h2.3v2.3h-2.3zM154.38 142.18h2.3v2.3h-2.3zM160.39 142.37h2.3v2.3h-2.3zM162.4 142.29h2.3v2.3h-2.3zM164.22 142.28h2.3v2.3h-2.3zM82.18 144.32h2.3v2.3h-2.3zM84.23 144.22h2.3v2.3h-2.3zM92.23 144.5h2.3v2.3h-2.3zM94.27 144.39h2.3v2.3h-2.3zM98.37 144.46h2.3v2.3h-2.3zM144.25 144.35h2.3v2.3h-2.3zM156.21 144.28h2.3v2.3h-2.3zM160.34 144.36h2.3v2.3h-2.3zM170.23 144.3h2.3v2.3h-2.3zM178.07 144.41h2.3v2.3h-2.3zM180.06 144.53h2.3v2.3h-2.3zM182.23 144.35h2.3v2.3h-2.3zM82.35 146.3h2.3v2.3h-2.3zM96.15 146.16h2.3v2.3h-2.3zM144.06 146.19h2.3v2.3h-2.3zM148.12 146.22h2.3v2.3h-2.3zM150.37 146.46h2.3v2.3h-2.3zM162.21 146.29h2.3v2.3h-2.3zM168.18 146.43h2.3v2.3h-2.3zM172.14 146.5h2.3v2.3h-2.3zM174.38 146.28h2.3v2.3h-2.3zM92.07 148.24h2.3v2.3h-2.3zM98.24 148.28h2.3v2.3h-2.3zM138.17 148.43h2.3v2.3h-2.3zM142.15 148.36h2.3v2.3h-2.3zM146.07 148.3h2.3v2.3h-2.3zM150.39 148.51h2.3v2.3h-2.3zM154.14 148.4h2.3v2.3h-2.3zM184.15 148.29h2.3v2.3h-2.3zM96.23 150.41h2.3v2.3h-2.3zM98.3 150.49h2.3v2.3h-2.3zM104.06 150.31h2.3v2.3h-2.3zM138.27 150.32h2.3v2.3h-2.3zM144.3 150.43h2.3v2.3h-2.3zM148.09 150.45h2.3v2.3h-2.3zM152.4 150.5h2.3v2.3h-2.3zM178.42 150.46h2.3v2.3h-2.3zM180.14 150.25h2.3v2.3h-2.3zM184.08 150.47h2.3v2.3h-2.3zM96.18 152.23h2.3v2.3h-2.3zM100.31 152.28h2.3v2.3h-2.3zM102.18 152.26h2.3v2.3h-2.3zM132.23 152.29h2.3v2.3h-2.3zM134.3 152.29h2.3v2.3h-2.3zM140.3 152.52h2.3v2.3h-2.3zM182.29 152.22h2.3v2.3h-2.3zM184.42 152.43h2.3v2.3h-2.3zM186.05 152.19h2.3v2.3h-2.3zM128.33 154.39h2.3v2.3h-2.3zM130.07 154.25h2.3v2.3h-2.3zM134.09 154.52h2.3v2.3h-2.3zM142.23 154.16h2.3v2.3h-2.3zM150.36 154.3h2.3v2.3h-2.3zM184.09 154.25h2.3v2.3h-2.3zM98.15 156.5h2.3v2.3h-2.3zM104.09 156.45h2.3v2.3h-2.3zM132.23 156.54h2.3v2.3h-2.3zM134.15 156.3h2.3v2.3h-2.3zM142.3 156.26h2.3v2.3h-2.3zM180.34 156.19h2.3v2.3h-2.3zM184.26 156.49h2.3v2.3h-2.3zM186.38 156.36h2.3v2.3h-2.3zM104.16 158.41h2.3v2.3h-2.3zM138.27 158.4h2.3v2.3h-2.3zM180.17 158.32h2.3v2.3h-2.3zM182.23 158.51h2.3v2.3h-2.3zM106.28 160.33h2.3v2.3h-2.3zM108.15 160.33h2.3v2.3h-2.3zM124.14 160.16h2.3v2.3h-2.3zM186.19 160.25h2.3v2.3h-2.3zM188.25 160.54h2.3v2.3h-2.3zM192.04 160.49h2.3v2.3h-2.3zM194.1 160.37h2.3v2.3h-2.3zM104.16 162.24h2.3v2.3h-2.3zM112.09 162.27h2.3v2.3h-2.3zM134.05 162.35h2.3v2.3h-2.3zM136.21 162.5h2.3v2.3h-2.3zM138.25 162.18h2.3v2.3h-2.3zM140.17 162.43h2.3v2.3h-2.3zM182.39 162.37h2.3v2.3h-2.3zM194.18 162.44h2.3v2.3h-2.3zM196.05 162.31h2.3v2.3h-2.3zM100.35 164.16h2.3v2.3h-2.3zM106.17 164.48h2.3v2.3h-2.3zM120.1 164.41h2.3v2.3h-2.3zM124.36 164.48h2.3v2.3h-2.3zM126.25 164.5h2.3v2.3h-2.3zM186.16 164.49h2.3v2.3h-2.3zM190.1 164.3h2.3v2.3h-2.3zM194.14 164.17h2.3v2.3h-2.3zM196.12 164.15h2.3v2.3h-2.3zM114.04 166.35h2.3v2.3h-2.3zM118.38 166.52h2.3v2.3h-2.3zM124.11 166.27h2.3v2.3h-2.3zM184.43 166.49h2.3v2.3h-2.3zM104.36 168.15h2.3v2.3h-2.3zM120.17 168.38h2.3v2.3h-2.3zM190.34 168.2h2.3v2.3h-2.3zM192.43 168.32h2.3v2.3h-2.3zM196.13 168.39h2.3v2.3h-2.3zM108.42 170.15h2.3v2.3h-2.3zM122.25 170.19h2.3v2.3h-2.3zM174.27 170.34h2.3v2.3h-2.3zM178.09 170.21h2.3v2.3h-2.3zM184.39 170.52h2.3v2.3h-2.3zM194.12 170.25h2.3v2.3h-2.3zM106.11 172.18h2.3v2.3h-2.3zM118.27 172.47h2.3v2.3h-2.3zM126.2 172.36h2.3v2.3h-2.3zM180.19 172.27h2.3v2.3h-2.3zM188.36 172.17h2.3v2.3h-2.3zM112.16 174.24h2.3v2.3h-2.3zM178.33 174.53h2.3v2.3h-2.3zM182.31 174.45h2.3v2.3h-2.3zM196.24 174.33h2.3v2.3h-2.3zM198.14 174.23h2.3v2.3h-2.3zM176.25 176.16h2.3v2.3h-2.3zM178.13 176.25h2.3v2.3h-2.3zM186.17 176.4h2.3v2.3h-2.3zM182.42 178.22h2.3v2.3h-2.3zM208.27 186.22h2.3v2.3h-2.3zM204.39 190.47h2.3v2.3h-2.3zM204.38 192.27h2.3v2.3h-2.3zM200.34 196.3h2.3v2.3h-2.3zM200.1 198.52h2.3v2.3h-2.3zM202.17 198.49h2.3v2.3h-2.3zM208.26 198.28h2.3v2.3h-2.3zM202.21 200.29h2.3v2.3h-2.3zM204.17 200.41h2.3v2.3h-2.3zM210.14 200.5h2.3v2.3h-2.3zM200.41 202.4h2.3v2.3h-2.3zM202.35 202.52h2.3v2.3h-2.3zM204.16 202.35h2.3v2.3h-2.3zM204.41 204.44h2.3v2.3h-2.3zM212.38 204.37h2.3v2.3h-2.3zM200.36 206.31h2.3v2.3h-2.3zM210.21 206.49h2.3v2.3h-2.3zM206.16 208.28h2.3v2.3h-2.3zM206.36 212.21h2.3v2.3h-2.3zM208.08 214.4h2.3v2.3h-2.3zM210.21 214.35h2.3v2.3h-2.3zM212.09 214.38h2.3v2.3h-2.3zM222.13 214.52h2.3v2.3h-2.3zM222.22 216.44h2.3v2.3h-2.3zM210.44 220.15h2.3v2.3h-2.3zM228.33 220.18h2.3v2.3h-2.3zM228.37 222.27h2.3v2.3h-2.3zM228.12 224.32h2.3v2.3h-2.3zM218.28 226.37h2.3v2.3h-2.3zM228.18 226.2h2.3v2.3h-2.3zM220.19 230.34h2.3v2.3h-2.3zM224.41 230.36h2.3v2.3h-2.3zM226.16 230.23h2.3v2.3h-2.3zM218.24 232.41h2.3v2.3h-2.3zM220.29 232.53h2.3v2.3h-2.3zM226.39 232.16h2.3v2.3h-2.3zM228.09 232.41h2.3v2.3h-2.3zM234.12 232.32h2.3v2.3h-2.3zM228.23 234.35h2.3v2.3h-2.3zM234.22 234.52h2.3v2.3h-2.3zM236.07 234.2h2.3v2.3h-2.3zM222.4 236.17h2.3v2.3h-2.3zM226.1 236.27h2.3v2.3h-2.3zM234.16 236.34h2.3v2.3h-2.3zM220.18 238.38h2.3v2.3h-2.3zM224.43 238.28h2.3v2.3h-2.3zM226.17 238.46h2.3v2.3h-2.3zM228.07 238.41h2.3v2.3h-2.3zM230.04 238.53h2.3v2.3h-2.3zM218.23 240.17h2.3v2.3h-2.3zM220.1 240.47h2.3v2.3h-2.3zM228.07 240.25h2.3v2.3h-2.3zM232.15 240.38h2.3v2.3h-2.3zM236.39 240.37h2.3v2.3h-2.3zM224.4 242.41h2.3v2.3h-2.3zM228.05 242.5h2.3v2.3h-2.3zM238.41 242.29h2.3v2.3h-2.3zM238.38 244.38h2.3v2.3h-2.3zM226.23 246.49h2.3v2.3h-2.3zM228.43 246.35h2.3v2.3h-2.3zM242.3 246.42h2.3v2.3h-2.3zM244.06 246.46h2.3v2.3h-2.3zM238.08 248.27h2.3v2.3h-2.3zM242.15 248.17h2.3v2.3h-2.3zM68 136.5h2.3v2.3h-2.3zM71.5 145h2.3v2.3h-2.3zM75.5 143.5h2.3v2.3h-2.3z" fill="#f768a1"/><path d="M174.08 126.16h2.3v2.3h-2.3zM170.32 128.34h2.3v2.3h-2.3zM174.27 128.36h2.3v2.3h-2.3zM176.08 128.54h2.3v2.3h-2.3zM170.32 130.55h2.3v2.3h-2.3zM178.14 130.3h2.3v2.3h-2.3zM168.41 132.28h2.3v2.3h-2.3zM84.41 134.36h2.3v2.3h-2.3zM168.26 134.41h2.3v2.3h-2.3zM178.44 134.21h2.3v2.3h-2.3zM180.39 134.41h2.3v2.3h-2.3zM182.39 134.3h2.3v2.3h-2.3zM82.21 136.45h2.3v2.3h-2.3zM176.26 136.46h2.3v2.3h-2.3zM84.2 138.41h2.3v2.3h-2.3zM88.19 138.24h2.3v2.3h-2.3zM160.14 138.37h2.3v2.3h-2.3zM164.06 138.37h2.3v2.3h-2.3zM174.2 138.35h2.3v2.3h-2.3zM176.18 138.46h2.3v2.3h-2.3zM178.21 138.24h2.3v2.3h-2.3zM180.16 138.27h2.3v2.3h-2.3zM86.15 140.5h2.3v2.3h-2.3zM88.16 140.37h2.3v2.3h-2.3zM90.1 140.32h2.3v2.3h-2.3zM94.31 140.49h2.3v2.3h-2.3zM96.27 140.2h2.3v2.3h-2.3zM100.17 140.36h2.3v2.3h-2.3zM150.13 140.24h2.3v2.3h-2.3zM160.28 140.24h2.3v2.3h-2.3zM162.25 140.47h2.3v2.3h-2.3zM166.06 140.18h2.3v2.3h-2.3zM170.14 140.37h2.3v2.3h-2.3zM172.41 140.21h2.3v2.3h-2.3zM180.4 140.29h2.3v2.3h-2.3zM80.27 142.42h2.3v2.3h-2.3zM82.18 142.3h2.3v2.3h-2.3zM90.36 142.43h2.3v2.3h-2.3zM92.18 142.23h2.3v2.3h-2.3zM98.38 142.16h2.3v2.3h-2.3zM100.12 142.18h2.3v2.3h-2.3zM148.08 142.44h2.3v2.3h-2.3zM150.11 142.22h2.3v2.3h-2.3zM152.31 142.51h2.3v2.3h-2.3zM158.3 142.23h2.3v2.3h-2.3zM166.42 142.4h2.3v2.3h-2.3zM170.36 142.48h2.3v2.3h-2.3zM176.22 142.36h2.3v2.3h-2.3zM182.42 142.2h2.3v2.3h-2.3zM88.42 144.16h2.3v2.3h-2.3zM96.1 144.55h2.3v2.3h-2.3zM102.22 144.22h2.3v2.3h-2.3zM148.14 144.4h2.3v2.3h-2.3zM154.07 144.18h2.3v2.3h-2.3zM166.08 144.41h2.3v2.3h-2.3zM168.12 144.39h2.3v2.3h-2.3zM80.05 146.33h2.3v2.3h-2.3zM84.22 146.23h2.3v2.3h-2.3zM86.38 146.21h2.3v2.3h-2.3zM90.1 146.17h2.3v2.3h-2.3zM92.07 146.39h2.3v2.3h-2.3zM100.11 146.36h2.3v2.3h-2.3zM146.27 146.43h2.3v2.3h-2.3zM158.17 146.53h2.3v2.3h-2.3zM160.34 146.49h2.3v2.3h-2.3zM164.12 146.18h2.3v2.3h-2.3zM170.38 146.47h2.3v2.3h-2.3zM176.13 146.45h2.3v2.3h-2.3zM178.26 146.18h2.3v2.3h-2.3zM182.22 146.3h2.3v2.3h-2.3zM184.19 146.5h2.3v2.3h-2.3zM96.38 148.31h2.3v2.3h-2.3zM136.33 148.48h2.3v2.3h-2.3zM144.1 148.54h2.3v2.3h-2.3zM158.06 148.51h2.3v2.3h-2.3zM164.07 148.29h2.3v2.3h-2.3zM166.4 148.27h2.3v2.3h-2.3zM174.05 148.38h2.3v2.3h-2.3zM176.04 148.2h2.3v2.3h-2.3zM178.12 148.27h2.3v2.3h-2.3zM180.22 148.35h2.3v2.3h-2.3zM182.43 148.35h2.3v2.3h-2.3zM94.12 150.35h2.3v2.3h-2.3zM174.4 150.53h2.3v2.3h-2.3zM182.38 150.37h2.3v2.3h-2.3zM186.37 150.2h2.3v2.3h-2.3zM188.21 150.45h2.3v2.3h-2.3zM94.06 152.23h2.3v2.3h-2.3zM104.31 152.52h2.3v2.3h-2.3zM138.06 152.33h2.3v2.3h-2.3zM154.15 152.52h2.3v2.3h-2.3zM156.31 152.17h2.3v2.3h-2.3zM96.22 154.52h2.3v2.3h-2.3zM100.15 154.29h2.3v2.3h-2.3zM138.09 154.32h2.3v2.3h-2.3zM148.29 154.3h2.3v2.3h-2.3zM176.12 154.16h2.3v2.3h-2.3zM186.23 154.23h2.3v2.3h-2.3zM96.15 156.52h2.3v2.3h-2.3zM102.23 156.19h2.3v2.3h-2.3zM126.17 156.48h2.3v2.3h-2.3zM128.09 156.4h2.3v2.3h-2.3zM138.11 156.51h2.3v2.3h-2.3zM146.17 156.26h2.3v2.3h-2.3zM96.27 158.41h2.3v2.3h-2.3zM98.23 158.42h2.3v2.3h-2.3zM100.1 158.43h2.3v2.3h-2.3zM102.12 158.42h2.3v2.3h-2.3zM140.31 158.31h2.3v2.3h-2.3zM144.32 158.21h2.3v2.3h-2.3zM96.22 160.3h2.3v2.3h-2.3zM102.27 160.16h2.3v2.3h-2.3zM128.44 160.23h2.3v2.3h-2.3zM184.15 160.24h2.3v2.3h-2.3zM102.38 162.17h2.3v2.3h-2.3zM120.17 162.24h2.3v2.3h-2.3zM122.04 162.47h2.3v2.3h-2.3zM192.42 162.39h2.3v2.3h-2.3zM108.18 164.41h2.3v2.3h-2.3zM110.28 164.17h2.3v2.3h-2.3zM116.09 164.35h2.3v2.3h-2.3zM132.33 164.26h2.3v2.3h-2.3zM136.3 164.3h2.3v2.3h-2.3zM104.42 166.45h2.3v2.3h-2.3zM110.31 166.24h2.3v2.3h-2.3zM112.11 166.37h2.3v2.3h-2.3zM134.1 166.55h2.3v2.3h-2.3zM186.16 166.43h2.3v2.3h-2.3zM188.38 166.23h2.3v2.3h-2.3zM196.3 166.21h2.3v2.3h-2.3zM198.28 166.42h2.3v2.3h-2.3zM100.39 168.26h2.3v2.3h-2.3zM108.08 168.2h2.3v2.3h-2.3zM184.29 168.5h2.3v2.3h-2.3zM186.07 168.37h2.3v2.3h-2.3zM188.05 168.2h2.3v2.3h-2.3zM104.06 170.47h2.3v2.3h-2.3zM110.06 170.41h2.3v2.3h-2.3zM112.19 170.4h2.3v2.3h-2.3zM114.36 170.23h2.3v2.3h-2.3zM120.12 170.45h2.3v2.3h-2.3zM124.42 170.54h2.3v2.3h-2.3zM126.19 170.28h2.3v2.3h-2.3zM176.37 170.31h2.3v2.3h-2.3zM182.39 170.28h2.3v2.3h-2.3zM188.39 170.48h2.3v2.3h-2.3zM176.42 172.27h2.3v2.3h-2.3zM178.2 172.33h2.3v2.3h-2.3zM120.43 174.19h2.3v2.3h-2.3zM176.12 174.38h2.3v2.3h-2.3zM180.11 174.22h2.3v2.3h-2.3zM184.31 174.2h2.3v2.3h-2.3zM180.24 176.43h2.3v2.3h-2.3zM176.24 178.4h2.3v2.3h-2.3zM180.09 178.36h2.3v2.3h-2.3zM206.11 190.26h2.3v2.3h-2.3zM206.21 196.3h2.3v2.3h-2.3zM198.06 198.3h2.3v2.3h-2.3zM206.38 198.3h2.3v2.3h-2.3zM198.29 200.49h2.3v2.3h-2.3zM208.32 200.54h2.3v2.3h-2.3zM206.28 202.51h2.3v2.3h-2.3zM210.24 202.31h2.3v2.3h-2.3zM200.08 204.34h2.3v2.3h-2.3zM210.39 204.27h2.3v2.3h-2.3zM214.41 204.42h2.3v2.3h-2.3zM202.14 206.32h2.3v2.3h-2.3zM214.4 206.31h2.3v2.3h-2.3zM216.13 206.45h2.3v2.3h-2.3zM216.35 208.18h2.3v2.3h-2.3zM208.37 210.37h2.3v2.3h-2.3zM210.14 210.4h2.3v2.3h-2.3zM216.37 210.35h2.3v2.3h-2.3zM208.18 212.27h2.3v2.3h-2.3zM216.3 214.21h2.3v2.3h-2.3zM218.42 214.16h2.3v2.3h-2.3zM220.15 214.45h2.3v2.3h-2.3zM224.3 216.43h2.3v2.3h-2.3zM210.25 218.54h2.3v2.3h-2.3zM220.2 218.49h2.3v2.3h-2.3zM216.14 224.28h2.3v2.3h-2.3zM220.19 224.45h2.3v2.3h-2.3zM226.3 226.45h2.3v2.3h-2.3zM220.05 228.31h2.3v2.3h-2.3zM226.06 228.5h2.3v2.3h-2.3zM218.42 230.3h2.3v2.3h-2.3zM228.36 230.24h2.3v2.3h-2.3zM216.28 232.51h2.3v2.3h-2.3zM226.35 234.54h2.3v2.3h-2.3zM232.42 234.49h2.3v2.3h-2.3zM218.32 236.17h2.3v2.3h-2.3zM220.24 236.21h2.3v2.3h-2.3zM232.4 236.36h2.3v2.3h-2.3zM218.15 238.23h2.3v2.3h-2.3zM232.18 238.25h2.3v2.3h-2.3zM234.16 238.3h2.3v2.3h-2.3zM222.3 240.34h2.3v2.3h-2.3zM224.04 240.18h2.3v2.3h-2.3zM240.41 240.39h2.3v2.3h-2.3zM242.27 240.16h2.3v2.3h-2.3zM230.38 242.46h2.3v2.3h-2.3zM236.42 242.24h2.3v2.3h-2.3zM222.04 244.24h2.3v2.3h-2.3zM232.42 246.46h2.3v2.3h-2.3zM228.04 248.54h2.3v2.3h-2.3zM234.36 248.55h2.3v2.3h-2.3zM236.23 248.37h2.3v2.3h-2.3zM240.21 248.23h2.3v2.3h-2.3zM244.11 248.34h2.3v2.3h-2.3zM230.34 250.3h2.3v2.3h-2.3zM234.19 250.51h2.3v2.3h-2.3zM236.4 250.44h2.3v2.3h-2.3zM238.14 250.46h2.3v2.3h-2.3zM232.42 252.18h2.3v2.3h-2.3zM236.37 252.54h2.3v2.3h-2.3zM69.8 142.4h2.3v2.3h-2.3zM76.2 138.8h2.3v2.3h-2.3z" fill="#c51b8a"/><path d="M164.31 124.46h2.3v2.3h-2.3zM166.32 124.29h2.3v2.3h-2.3zM170.1 126.53h2.3v2.3h-2.3zM166.06 128.16h2.3v2.3h-2.3zM172.04 130.32h2.3v2.3h-2.3zM174.25 130.53h2.3v2.3h-2.3zM176.16 130.23h2.3v2.3h-2.3zM182.4 130.44h2.3v2.3h-2.3zM172.34 132.19h2.3v2.3h-2.3zM180.28 132.4h2.3v2.3h-2.3zM80.29 134.24h2.3v2.3h-2.3zM166.33 134.35h2.3v2.3h-2.3zM170.21 134.25h2.3v2.3h-2.3zM90.33 136.26h2.3v2.3h-2.3zM174.17 136.2h2.3v2.3h-2.3zM94.09 138.44h2.3v2.3h-2.3zM96.28 138.23h2.3v2.3h-2.3zM158.11 138.15h2.3v2.3h-2.3zM162.19 138.29h2.3v2.3h-2.3zM166.16 138.27h2.3v2.3h-2.3zM168.41 138.5h2.3v2.3h-2.3zM172.38 138.43h2.3v2.3h-2.3zM182.11 138.34h2.3v2.3h-2.3zM156.28 140.18h2.3v2.3h-2.3zM158.08 140.35h2.3v2.3h-2.3zM174.29 140.25h2.3v2.3h-2.3zM176.38 140.39h2.3v2.3h-2.3zM178.23 140.4h2.3v2.3h-2.3zM88.25 142.53h2.3v2.3h-2.3zM168.4 142.36h2.3v2.3h-2.3zM172.27 142.55h2.3v2.3h-2.3zM178.24 142.31h2.3v2.3h-2.3zM100.3 144.47h2.3v2.3h-2.3zM150.06 144.39h2.3v2.3h-2.3zM162.37 144.36h2.3v2.3h-2.3zM172.31 144.46h2.3v2.3h-2.3zM98.08 146.17h2.3v2.3h-2.3zM104.37 146.29h2.3v2.3h-2.3zM142.25 146.42h2.3v2.3h-2.3zM156.38 146.28h2.3v2.3h-2.3zM166.42 146.38h2.3v2.3h-2.3zM100.32 148.49h2.3v2.3h-2.3zM102.42 148.36h2.3v2.3h-2.3zM104.2 148.2h2.3v2.3h-2.3zM140.27 148.18h2.3v2.3h-2.3zM162.04 148.19h2.3v2.3h-2.3zM186.11 148.43h2.3v2.3h-2.3zM154.41 150.43h2.3v2.3h-2.3zM156.2 150.42h2.3v2.3h-2.3zM158.12 150.55h2.3v2.3h-2.3zM160.15 150.37h2.3v2.3h-2.3zM164.08 150.38h2.3v2.3h-2.3zM176.07 150.54h2.3v2.3h-2.3zM98.25 152.54h2.3v2.3h-2.3zM142.27 152.27h2.3v2.3h-2.3zM178.16 152.5h2.3v2.3h-2.3zM106.35 154.39h2.3v2.3h-2.3zM136.43 154.53h2.3v2.3h-2.3zM144.27 154.37h2.3v2.3h-2.3zM182.27 154.45h2.3v2.3h-2.3zM190.38 154.45h2.3v2.3h-2.3zM100.25 156.39h2.3v2.3h-2.3zM130.15 156.45h2.3v2.3h-2.3zM178.43 156.52h2.3v2.3h-2.3zM182.38 156.54h2.3v2.3h-2.3zM192.32 156.28h2.3v2.3h-2.3zM126.34 158.44h2.3v2.3h-2.3zM128.27 158.36h2.3v2.3h-2.3zM130.25 158.37h2.3v2.3h-2.3zM132.2 158.19h2.3v2.3h-2.3zM142.42 158.3h2.3v2.3h-2.3zM188.37 158.18h2.3v2.3h-2.3zM100.1 160.31h2.3v2.3h-2.3zM132.06 160.33h2.3v2.3h-2.3zM134.35 160.4h2.3v2.3h-2.3zM136.18 160.18h2.3v2.3h-2.3zM142.2 160.22h2.3v2.3h-2.3zM98.31 162.15h2.3v2.3h-2.3zM108.11 162.38h2.3v2.3h-2.3zM132.11 162.19h2.3v2.3h-2.3zM186.32 162.31h2.3v2.3h-2.3zM98.16 164.26h2.3v2.3h-2.3zM102.41 164.54h2.3v2.3h-2.3zM112.34 164.37h2.3v2.3h-2.3zM114.09 164.48h2.3v2.3h-2.3zM118.34 164.28h2.3v2.3h-2.3zM128.07 164.2h2.3v2.3h-2.3zM130.31 164.19h2.3v2.3h-2.3zM100.36 166.26h2.3v2.3h-2.3zM106.1 166.25h2.3v2.3h-2.3zM122.06 166.52h2.3v2.3h-2.3zM128.29 166.2h2.3v2.3h-2.3zM102.12 168.22h2.3v2.3h-2.3zM112.35 168.24h2.3v2.3h-2.3zM118.41 168.54h2.3v2.3h-2.3zM126.08 168.37h2.3v2.3h-2.3zM128.24 168.3h2.3v2.3h-2.3zM132.17 168.36h2.3v2.3h-2.3zM194.4 168.16h2.3v2.3h-2.3zM128.4 170.51h2.3v2.3h-2.3zM180.15 170.34h2.3v2.3h-2.3zM186.3 170.16h2.3v2.3h-2.3zM112.36 172.34h2.3v2.3h-2.3zM116.34 172.53h2.3v2.3h-2.3zM122.35 172.34h2.3v2.3h-2.3zM124.22 172.34h2.3v2.3h-2.3zM190.07 172.34h2.3v2.3h-2.3zM110.12 174.3h2.3v2.3h-2.3zM114.27 174.19h2.3v2.3h-2.3zM116.27 174.53h2.3v2.3h-2.3zM122.07 174.21h2.3v2.3h-2.3zM186.41 174.24h2.3v2.3h-2.3zM190.19 174.47h2.3v2.3h-2.3zM174.24 176.25h2.3v2.3h-2.3zM188.26 176.3h2.3v2.3h-2.3zM174.39 178.16h2.3v2.3h-2.3zM178.27 178.32h2.3v2.3h-2.3zM200.26 192.53h2.3v2.3h-2.3zM208.39 192.46h2.3v2.3h-2.3zM204.39 198.23h2.3v2.3h-2.3zM212.18 198.39h2.3v2.3h-2.3zM214.25 202.43h2.3v2.3h-2.3zM206.24 204.32h2.3v2.3h-2.3zM208.32 204.48h2.3v2.3h-2.3zM216.25 204.43h2.3v2.3h-2.3zM206.26 206.49h2.3v2.3h-2.3zM208.19 206.32h2.3v2.3h-2.3zM218.13 206.39h2.3v2.3h-2.3zM204.36 208.41h2.3v2.3h-2.3zM214.11 208.46h2.3v2.3h-2.3zM212.08 210.39h2.3v2.3h-2.3zM220.3 210.34h2.3v2.3h-2.3zM204.15 212.36h2.3v2.3h-2.3zM214.08 212.17h2.3v2.3h-2.3zM222.2 212.54h2.3v2.3h-2.3zM206.11 214.5h2.3v2.3h-2.3zM214.24 214.51h2.3v2.3h-2.3zM212.38 220.27h2.3v2.3h-2.3zM214.42 220.25h2.3v2.3h-2.3zM224.08 222.45h2.3v2.3h-2.3zM230.14 224.29h2.3v2.3h-2.3zM228.41 228.28h2.3v2.3h-2.3zM230.07 230.37h2.3v2.3h-2.3zM230.41 232.17h2.3v2.3h-2.3zM222.34 234.39h2.3v2.3h-2.3zM224.09 234.49h2.3v2.3h-2.3zM224.23 236.33h2.3v2.3h-2.3zM222.34 238.46h2.3v2.3h-2.3zM238.18 240.28h2.3v2.3h-2.3zM222.23 242.36h2.3v2.3h-2.3zM232.43 242.24h2.3v2.3h-2.3zM234.43 242.5h2.3v2.3h-2.3zM242.09 242.17h2.3v2.3h-2.3zM236.14 244.53h2.3v2.3h-2.3zM234.19 246.32h2.3v2.3h-2.3zM238.28 246.33h2.3v2.3h-2.3zM232.28 248.54h2.3v2.3h-2.3zM242.24 250.26h2.3v2.3h-2.3zM234.35 252.22h2.3v2.3h-2.3zM240.32 252.31h2.3v2.3h-2.3z" fill="#7a0177"/></g>
<g transform="translate(273.3,0)" filter="url(#bl)"><path d="M164.31 124.46h2.3v2.3h-2.3zM166.32 124.29h2.3v2.3h-2.3zM166.23 126.32h2.3v2.3h-2.3zM168.37 126.24h2.3v2.3h-2.3zM170.1 126.53h2.3v2.3h-2.3zM172.2 126.46h2.3v2.3h-2.3zM174.08 126.16h2.3v2.3h-2.3zM166.06 128.16h2.3v2.3h-2.3zM170.32 128.34h2.3v2.3h-2.3zM172.41 128.26h2.3v2.3h-2.3zM174.27 128.36h2.3v2.3h-2.3zM176.08 128.54h2.3v2.3h-2.3zM178.26 128.24h2.3v2.3h-2.3zM180.04 128.16h2.3v2.3h-2.3zM168.36 130.16h2.3v2.3h-2.3zM170.32 130.55h2.3v2.3h-2.3zM172.04 130.32h2.3v2.3h-2.3zM174.25 130.53h2.3v2.3h-2.3zM176.16 130.23h2.3v2.3h-2.3zM178.14 130.3h2.3v2.3h-2.3zM180.1 130.47h2.3v2.3h-2.3zM182.4 130.44h2.3v2.3h-2.3zM168.41 132.28h2.3v2.3h-2.3zM170.17 132.51h2.3v2.3h-2.3zM172.34 132.19h2.3v2.3h-2.3zM174.18 132.33h2.3v2.3h-2.3zM176.34 132.27h2.3v2.3h-2.3zM178.21 132.37h2.3v2.3h-2.3zM180.28 132.4h2.3v2.3h-2.3zM182.25 132.17h2.3v2.3h-2.3zM80.29 134.24h2.3v2.3h-2.3zM82.24 134.2h2.3v2.3h-2.3zM84.41 134.36h2.3v2.3h-2.3zM86.18 134.42h2.3v2.3h-2.3zM166.33 134.35h2.3v2.3h-2.3zM168.26 134.41h2.3v2.3h-2.3zM170.21 134.25h2.3v2.3h-2.3zM174.33 134.28h2.3v2.3h-2.3zM178.44 134.21h2.3v2.3h-2.3zM180.39 134.41h2.3v2.3h-2.3zM182.39 134.3h2.3v2.3h-2.3zM82.21 136.45h2.3v2.3h-2.3zM84.28 136.4h2.3v2.3h-2.3zM86.39 136.37h2.3v2.3h-2.3zM88.19 136.22h2.3v2.3h-2.3zM90.33 136.26h2.3v2.3h-2.3zM170.43 136.44h2.3v2.3h-2.3zM174.17 136.2h2.3v2.3h-2.3zM176.26 136.46h2.3v2.3h-2.3zM80.32 138.44h2.3v2.3h-2.3zM82.26 138.36h2.3v2.3h-2.3zM84.2 138.41h2.3v2.3h-2.3zM86.13 138.43h2.3v2.3h-2.3zM88.19 138.24h2.3v2.3h-2.3zM92.05 138.18h2.3v2.3h-2.3zM94.09 138.44h2.3v2.3h-2.3zM96.28 138.23h2.3v2.3h-2.3zM158.11 138.15h2.3v2.3h-2.3zM160.14 138.37h2.3v2.3h-2.3zM162.19 138.29h2.3v2.3h-2.3zM164.06 138.37h2.3v2.3h-2.3zM166.16 138.27h2.3v2.3h-2.3zM168.41 138.5h2.3v2.3h-2.3zM172.38 138.43h2.3v2.3h-2.3zM174.2 138.35h2.3v2.3h-2.3zM176.18 138.46h2.3v2.3h-2.3zM178.21 138.24h2.3v2.3h-2.3zM180.16 138.27h2.3v2.3h-2.3zM182.11 138.34h2.3v2.3h-2.3zM82.07 140.41h2.3v2.3h-2.3zM84.05 140.3h2.3v2.3h-2.3zM86.15 140.5h2.3v2.3h-2.3zM88.16 140.37h2.3v2.3h-2.3zM90.1 140.32h2.3v2.3h-2.3zM94.31 140.49h2.3v2.3h-2.3zM96.27 140.2h2.3v2.3h-2.3zM100.17 140.36h2.3v2.3h-2.3zM150.13 140.24h2.3v2.3h-2.3zM154.32 140.44h2.3v2.3h-2.3zM156.28 140.18h2.3v2.3h-2.3zM158.08 140.35h2.3v2.3h-2.3zM160.28 140.24h2.3v2.3h-2.3zM162.25 140.47h2.3v2.3h-2.3zM164.42 140.45h2.3v2.3h-2.3zM166.06 140.18h2.3v2.3h-2.3zM170.14 140.37h2.3v2.3h-2.3zM172.41 140.21h2.3v2.3h-2.3zM174.29 140.25h2.3v2.3h-2.3zM176.38 140.39h2.3v2.3h-2.3zM178.23 140.4h2.3v2.3h-2.3zM180.4 140.29h2.3v2.3h-2.3zM80.27 142.42h2.3v2.3h-2.3zM82.18 142.3h2.3v2.3h-2.3zM84.16 142.43h2.3v2.3h-2.3zM86.11 142.52h2.3v2.3h-2.3zM88.25 142.53h2.3v2.3h-2.3zM90.36 142.43h2.3v2.3h-2.3zM92.18 142.23h2.3v2.3h-2.3zM94.13 142.52h2.3v2.3h-2.3zM98.38 142.16h2.3v2.3h-2.3zM100.12 142.18h2.3v2.3h-2.3zM146.13 142.31h2.3v2.3h-2.3zM148.08 142.44h2.3v2.3h-2.3zM150.11 142.22h2.3v2.3h-2.3zM152.31 142.51h2.3v2.3h-2.3zM154.38 142.18h2.3v2.3h-2.3zM158.3 142.23h2.3v2.3h-2.3zM160.39 142.37h2.3v2.3h-2.3zM162.4 142.29h2.3v2.3h-2.3zM164.22 142.28h2.3v2.3h-2.3zM166.42 142.4h2.3v2.3h-2.3zM168.4 142.36h2.3v2.3h-2.3zM170.36 142.48h2.3v2.3h-2.3zM172.27 142.55h2.3v2.3h-2.3zM176.22 142.36h2.3v2.3h-2.3zM178.24 142.31h2.3v2.3h-2.3zM182.42 142.2h2.3v2.3h-2.3zM82.18 144.32h2.3v2.3h-2.3zM84.23 144.22h2.3v2.3h-2.3zM86.41 144.16h2.3v2.3h-2.3zM88.42 144.16h2.3v2.3h-2.3zM92.23 144.5h2.3v2.3h-2.3zM94.27 144.39h2.3v2.3h-2.3zM96.1 144.55h2.3v2.3h-2.3zM98.37 144.46h2.3v2.3h-2.3zM100.3 144.47h2.3v2.3h-2.3zM102.22 144.22h2.3v2.3h-2.3zM144.25 144.35h2.3v2.3h-2.3zM148.14 144.4h2.3v2.3h-2.3zM150.06 144.39h2.3v2.3h-2.3zM154.07 144.18h2.3v2.3h-2.3zM156.21 144.28h2.3v2.3h-2.3zM160.34 144.36h2.3v2.3h-2.3zM162.37 144.36h2.3v2.3h-2.3zM166.08 144.41h2.3v2.3h-2.3zM168.12 144.39h2.3v2.3h-2.3zM170.23 144.3h2.3v2.3h-2.3zM172.31 144.46h2.3v2.3h-2.3zM178.07 144.41h2.3v2.3h-2.3zM180.06 144.53h2.3v2.3h-2.3zM182.23 144.35h2.3v2.3h-2.3zM80.05 146.33h2.3v2.3h-2.3zM82.35 146.3h2.3v2.3h-2.3zM84.22 146.23h2.3v2.3h-2.3zM86.38 146.21h2.3v2.3h-2.3zM88.13 146.21h2.3v2.3h-2.3zM90.1 146.17h2.3v2.3h-2.3zM92.07 146.39h2.3v2.3h-2.3zM96.15 146.16h2.3v2.3h-2.3zM98.08 146.17h2.3v2.3h-2.3zM100.11 146.36h2.3v2.3h-2.3zM104.37 146.29h2.3v2.3h-2.3zM142.25 146.42h2.3v2.3h-2.3zM144.06 146.19h2.3v2.3h-2.3zM146.27 146.43h2.3v2.3h-2.3zM148.12 146.22h2.3v2.3h-2.3zM150.37 146.46h2.3v2.3h-2.3zM156.38 146.28h2.3v2.3h-2.3zM158.17 146.53h2.3v2.3h-2.3zM160.34 146.49h2.3v2.3h-2.3zM162.21 146.29h2.3v2.3h-2.3zM164.12 146.18h2.3v2.3h-2.3zM166.42 146.38h2.3v2.3h-2.3zM168.18 146.43h2.3v2.3h-2.3zM170.38 146.47h2.3v2.3h-2.3zM172.14 146.5h2.3v2.3h-2.3zM174.38 146.28h2.3v2.3h-2.3zM176.13 146.45h2.3v2.3h-2.3zM178.26 146.18h2.3v2.3h-2.3zM182.22 146.3h2.3v2.3h-2.3zM184.19 146.5h2.3v2.3h-2.3zM92.07 148.24h2.3v2.3h-2.3zM94.08 148.52h2.3v2.3h-2.3zM96.38 148.31h2.3v2.3h-2.3zM98.24 148.28h2.3v2.3h-2.3zM100.32 148.49h2.3v2.3h-2.3zM102.42 148.36h2.3v2.3h-2.3zM104.2 148.2h2.3v2.3h-2.3zM136.33 148.48h2.3v2.3h-2.3zM138.17 148.43h2.3v2.3h-2.3zM140.27 148.18h2.3v2.3h-2.3zM142.15 148.36h2.3v2.3h-2.3zM144.1 148.54h2.3v2.3h-2.3zM146.07 148.3h2.3v2.3h-2.3zM150.39 148.51h2.3v2.3h-2.3zM154.14 148.4h2.3v2.3h-2.3zM158.06 148.51h2.3v2.3h-2.3zM162.04 148.19h2.3v2.3h-2.3zM164.07 148.29h2.3v2.3h-2.3zM166.4 148.27h2.3v2.3h-2.3zM172.37 148.31h2.3v2.3h-2.3zM174.05 148.38h2.3v2.3h-2.3zM176.04 148.2h2.3v2.3h-2.3zM178.12 148.27h2.3v2.3h-2.3zM180.22 148.35h2.3v2.3h-2.3zM182.43 148.35h2.3v2.3h-2.3zM184.15 148.29h2.3v2.3h-2.3zM186.11 148.43h2.3v2.3h-2.3zM94.12 150.35h2.3v2.3h-2.3zM96.23 150.41h2.3v2.3h-2.3zM98.3 150.49h2.3v2.3h-2.3zM104.06 150.31h2.3v2.3h-2.3zM136.18 150.52h2.3v2.3h-2.3zM138.27 150.32h2.3v2.3h-2.3zM144.3 150.43h2.3v2.3h-2.3zM148.09 150.45h2.3v2.3h-2.3zM152.4 150.5h2.3v2.3h-2.3zM154.41 150.43h2.3v2.3h-2.3zM156.2 150.42h2.3v2.3h-2.3zM158.12 150.55h2.3v2.3h-2.3zM160.15 150.37h2.3v2.3h-2.3zM164.08 150.38h2.3v2.3h-2.3zM174.4 150.53h2.3v2.3h-2.3zM176.07 150.54h2.3v2.3h-2.3zM178.42 150.46h2.3v2.3h-2.3zM180.14 150.25h2.3v2.3h-2.3zM182.38 150.37h2.3v2.3h-2.3zM184.08 150.47h2.3v2.3h-2.3zM186.37 150.2h2.3v2.3h-2.3zM188.21 150.45h2.3v2.3h-2.3zM94.06 152.23h2.3v2.3h-2.3zM96.18 152.23h2.3v2.3h-2.3zM98.25 152.54h2.3v2.3h-2.3zM100.31 152.28h2.3v2.3h-2.3zM102.18 152.26h2.3v2.3h-2.3zM104.31 152.52h2.3v2.3h-2.3zM106.39 152.5h2.3v2.3h-2.3zM132.23 152.29h2.3v2.3h-2.3zM134.3 152.29h2.3v2.3h-2.3zM136.2 152.41h2.3v2.3h-2.3zM138.06 152.33h2.3v2.3h-2.3zM140.3 152.52h2.3v2.3h-2.3zM142.27 152.27h2.3v2.3h-2.3zM146.22 152.25h2.3v2.3h-2.3zM154.15 152.52h2.3v2.3h-2.3zM156.31 152.17h2.3v2.3h-2.3zM178.16 152.5h2.3v2.3h-2.3zM182.29 152.22h2.3v2.3h-2.3zM184.42 152.43h2.3v2.3h-2.3zM186.05 152.19h2.3v2.3h-2.3zM96.22 154.52h2.3v2.3h-2.3zM100.15 154.29h2.3v2.3h-2.3zM102.34 154.2h2.3v2.3h-2.3zM106.35 154.39h2.3v2.3h-2.3zM128.33 154.39h2.3v2.3h-2.3zM130.07 154.25h2.3v2.3h-2.3zM134.09 154.52h2.3v2.3h-2.3zM136.43 154.53h2.3v2.3h-2.3zM138.09 154.32h2.3v2.3h-2.3zM142.23 154.16h2.3v2.3h-2.3zM144.27 154.37h2.3v2.3h-2.3zM148.29 154.3h2.3v2.3h-2.3zM150.36 154.3h2.3v2.3h-2.3zM176.12 154.16h2.3v2.3h-2.3zM180.14 154.32h2.3v2.3h-2.3zM182.27 154.45h2.3v2.3h-2.3zM184.09 154.25h2.3v2.3h-2.3zM186.23 154.23h2.3v2.3h-2.3zM190.38 154.45h2.3v2.3h-2.3zM96.15 156.52h2.3v2.3h-2.3zM98.15 156.5h2.3v2.3h-2.3zM100.25 156.39h2.3v2.3h-2.3zM102.23 156.19h2.3v2.3h-2.3zM104.09 156.45h2.3v2.3h-2.3zM126.17 156.48h2.3v2.3h-2.3zM128.09 156.4h2.3v2.3h-2.3zM130.15 156.45h2.3v2.3h-2.3zM132.23 156.54h2.3v2.3h-2.3zM134.15 156.3h2.3v2.3h-2.3zM138.11 156.51h2.3v2.3h-2.3zM142.3 156.26h2.3v2.3h-2.3zM146.17 156.26h2.3v2.3h-2.3zM178.43 156.52h2.3v2.3h-2.3zM180.34 156.19h2.3v2.3h-2.3zM182.38 156.54h2.3v2.3h-2.3zM184.26 156.49h2.3v2.3h-2.3zM186.38 156.36h2.3v2.3h-2.3zM188.27 156.22h2.3v2.3h-2.3zM192.32 156.28h2.3v2.3h-2.3zM96.27 158.41h2.3v2.3h-2.3zM98.23 158.42h2.3v2.3h-2.3zM100.1 158.43h2.3v2.3h-2.3zM102.12 158.42h2.3v2.3h-2.3zM104.16 158.41h2.3v2.3h-2.3zM106.21 158.48h2.3v2.3h-2.3zM124.07 158.41h2.3v2.3h-2.3zM126.34 158.44h2.3v2.3h-2.3zM128.27 158.36h2.3v2.3h-2.3zM130.25 158.37h2.3v2.3h-2.3zM132.2 158.19h2.3v2.3h-2.3zM138.27 158.4h2.3v2.3h-2.3zM140.31 158.31h2.3v2.3h-2.3zM142.42 158.3h2.3v2.3h-2.3zM144.32 158.21h2.3v2.3h-2.3zM180.17 158.32h2.3v2.3h-2.3zM182.23 158.51h2.3v2.3h-2.3zM188.37 158.18h2.3v2.3h-2.3zM96.22 160.3h2.3v2.3h-2.3zM100.1 160.31h2.3v2.3h-2.3zM102.27 160.16h2.3v2.3h-2.3zM106.28 160.33h2.3v2.3h-2.3zM108.15 160.33h2.3v2.3h-2.3zM124.14 160.16h2.3v2.3h-2.3zM128.44 160.23h2.3v2.3h-2.3zM132.06 160.33h2.3v2.3h-2.3zM134.35 160.4h2.3v2.3h-2.3zM136.18 160.18h2.3v2.3h-2.3zM142.2 160.22h2.3v2.3h-2.3zM184.15 160.24h2.3v2.3h-2.3zM186.19 160.25h2.3v2.3h-2.3zM188.25 160.54h2.3v2.3h-2.3zM192.04 160.49h2.3v2.3h-2.3zM194.1 160.37h2.3v2.3h-2.3zM98.31 162.15h2.3v2.3h-2.3zM100.25 162.29h2.3v2.3h-2.3zM102.38 162.17h2.3v2.3h-2.3zM104.16 162.24h2.3v2.3h-2.3zM108.11 162.38h2.3v2.3h-2.3zM112.09 162.27h2.3v2.3h-2.3zM120.17 162.24h2.3v2.3h-2.3zM122.04 162.47h2.3v2.3h-2.3zM128.27 162.48h2.3v2.3h-2.3zM132.11 162.19h2.3v2.3h-2.3zM134.05 162.35h2.3v2.3h-2.3zM136.21 162.5h2.3v2.3h-2.3zM138.25 162.18h2.3v2.3h-2.3zM140.17 162.43h2.3v2.3h-2.3zM182.39 162.37h2.3v2.3h-2.3zM186.32 162.31h2.3v2.3h-2.3zM192.42 162.39h2.3v2.3h-2.3zM194.18 162.44h2.3v2.3h-2.3zM196.05 162.31h2.3v2.3h-2.3zM98.16 164.26h2.3v2.3h-2.3zM100.35 164.16h2.3v2.3h-2.3zM102.41 164.54h2.3v2.3h-2.3zM106.17 164.48h2.3v2.3h-2.3zM108.18 164.41h2.3v2.3h-2.3zM110.28 164.17h2.3v2.3h-2.3zM112.34 164.37h2.3v2.3h-2.3zM114.09 164.48h2.3v2.3h-2.3zM116.09 164.35h2.3v2.3h-2.3zM118.34 164.28h2.3v2.3h-2.3zM120.1 164.41h2.3v2.3h-2.3zM122.28 164.46h2.3v2.3h-2.3zM124.36 164.48h2.3v2.3h-2.3zM126.25 164.5h2.3v2.3h-2.3zM128.07 164.2h2.3v2.3h-2.3zM130.31 164.19h2.3v2.3h-2.3zM132.33 164.26h2.3v2.3h-2.3zM136.3 164.3h2.3v2.3h-2.3zM186.16 164.49h2.3v2.3h-2.3zM190.1 164.3h2.3v2.3h-2.3zM192.42 164.51h2.3v2.3h-2.3zM194.14 164.17h2.3v2.3h-2.3zM196.12 164.15h2.3v2.3h-2.3zM100.36 166.26h2.3v2.3h-2.3zM104.42 166.45h2.3v2.3h-2.3zM106.1 166.25h2.3v2.3h-2.3zM110.31 166.24h2.3v2.3h-2.3zM112.11 166.37h2.3v2.3h-2.3zM114.04 166.35h2.3v2.3h-2.3zM118.38 166.52h2.3v2.3h-2.3zM122.06 166.52h2.3v2.3h-2.3zM124.11 166.27h2.3v2.3h-2.3zM128.29 166.2h2.3v2.3h-2.3zM134.1 166.55h2.3v2.3h-2.3zM184.43 166.49h2.3v2.3h-2.3zM186.16 166.43h2.3v2.3h-2.3zM188.38 166.23h2.3v2.3h-2.3zM196.3 166.21h2.3v2.3h-2.3zM198.28 166.42h2.3v2.3h-2.3zM100.39 168.26h2.3v2.3h-2.3zM102.12 168.22h2.3v2.3h-2.3zM104.36 168.15h2.3v2.3h-2.3zM106.17 168.42h2.3v2.3h-2.3zM108.08 168.2h2.3v2.3h-2.3zM110.24 168.46h2.3v2.3h-2.3zM112.35 168.24h2.3v2.3h-2.3zM114.15 168.17h2.3v2.3h-2.3zM118.41 168.54h2.3v2.3h-2.3zM120.17 168.38h2.3v2.3h-2.3zM124.37 168.17h2.3v2.3h-2.3zM126.08 168.37h2.3v2.3h-2.3zM128.24 168.3h2.3v2.3h-2.3zM132.17 168.36h2.3v2.3h-2.3zM184.29 168.5h2.3v2.3h-2.3zM186.07 168.37h2.3v2.3h-2.3zM188.05 168.2h2.3v2.3h-2.3zM190.34 168.2h2.3v2.3h-2.3zM192.43 168.32h2.3v2.3h-2.3zM194.4 168.16h2.3v2.3h-2.3zM196.13 168.39h2.3v2.3h-2.3zM104.06 170.47h2.3v2.3h-2.3zM108.42 170.15h2.3v2.3h-2.3zM110.06 170.41h2.3v2.3h-2.3zM112.19 170.4h2.3v2.3h-2.3zM114.36 170.23h2.3v2.3h-2.3zM120.12 170.45h2.3v2.3h-2.3zM122.25 170.19h2.3v2.3h-2.3zM124.42 170.54h2.3v2.3h-2.3zM126.19 170.28h2.3v2.3h-2.3zM128.4 170.51h2.3v2.3h-2.3zM174.27 170.34h2.3v2.3h-2.3zM176.37 170.31h2.3v2.3h-2.3zM178.09 170.21h2.3v2.3h-2.3zM180.15 170.34h2.3v2.3h-2.3zM182.39 170.28h2.3v2.3h-2.3zM184.39 170.52h2.3v2.3h-2.3zM186.3 170.16h2.3v2.3h-2.3zM188.39 170.48h2.3v2.3h-2.3zM194.12 170.25h2.3v2.3h-2.3zM106.11 172.18h2.3v2.3h-2.3zM112.36 172.34h2.3v2.3h-2.3zM116.34 172.53h2.3v2.3h-2.3zM118.27 172.47h2.3v2.3h-2.3zM122.35 172.34h2.3v2.3h-2.3zM124.22 172.34h2.3v2.3h-2.3zM126.2 172.36h2.3v2.3h-2.3zM176.42 172.27h2.3v2.3h-2.3zM178.2 172.33h2.3v2.3h-2.3zM180.19 172.27h2.3v2.3h-2.3zM186.1 172.42h2.3v2.3h-2.3zM188.36 172.17h2.3v2.3h-2.3zM190.07 172.34h2.3v2.3h-2.3zM110.12 174.3h2.3v2.3h-2.3zM112.16 174.24h2.3v2.3h-2.3zM114.27 174.19h2.3v2.3h-2.3zM116.27 174.53h2.3v2.3h-2.3zM120.43 174.19h2.3v2.3h-2.3zM122.07 174.21h2.3v2.3h-2.3zM172.27 174.4h2.3v2.3h-2.3zM176.12 174.38h2.3v2.3h-2.3zM178.33 174.53h2.3v2.3h-2.3zM180.11 174.22h2.3v2.3h-2.3zM182.31 174.45h2.3v2.3h-2.3zM184.31 174.2h2.3v2.3h-2.3zM186.41 174.24h2.3v2.3h-2.3zM188.18 174.53h2.3v2.3h-2.3zM190.19 174.47h2.3v2.3h-2.3zM196.24 174.33h2.3v2.3h-2.3zM198.14 174.23h2.3v2.3h-2.3zM174.24 176.25h2.3v2.3h-2.3zM176.25 176.16h2.3v2.3h-2.3zM178.13 176.25h2.3v2.3h-2.3zM180.24 176.43h2.3v2.3h-2.3zM184.07 176.24h2.3v2.3h-2.3zM186.17 176.4h2.3v2.3h-2.3zM188.26 176.3h2.3v2.3h-2.3zM174.39 178.16h2.3v2.3h-2.3zM176.24 178.4h2.3v2.3h-2.3zM178.27 178.32h2.3v2.3h-2.3zM180.09 178.36h2.3v2.3h-2.3zM182.42 178.22h2.3v2.3h-2.3zM208.27 186.22h2.3v2.3h-2.3zM204.39 190.47h2.3v2.3h-2.3zM206.11 190.26h2.3v2.3h-2.3zM200.26 192.53h2.3v2.3h-2.3zM204.38 192.27h2.3v2.3h-2.3zM208.39 192.46h2.3v2.3h-2.3zM206.16 194.16h2.3v2.3h-2.3zM198.27 196.34h2.3v2.3h-2.3zM200.34 196.3h2.3v2.3h-2.3zM206.21 196.3h2.3v2.3h-2.3zM198.06 198.3h2.3v2.3h-2.3zM200.1 198.52h2.3v2.3h-2.3zM202.17 198.49h2.3v2.3h-2.3zM204.39 198.23h2.3v2.3h-2.3zM206.38 198.3h2.3v2.3h-2.3zM208.26 198.28h2.3v2.3h-2.3zM212.18 198.39h2.3v2.3h-2.3zM198.29 200.49h2.3v2.3h-2.3zM202.21 200.29h2.3v2.3h-2.3zM204.17 200.41h2.3v2.3h-2.3zM206.43 200.23h2.3v2.3h-2.3zM208.32 200.54h2.3v2.3h-2.3zM210.14 200.5h2.3v2.3h-2.3zM200.41 202.4h2.3v2.3h-2.3zM202.35 202.52h2.3v2.3h-2.3zM204.16 202.35h2.3v2.3h-2.3zM206.28 202.51h2.3v2.3h-2.3zM210.24 202.31h2.3v2.3h-2.3zM214.25 202.43h2.3v2.3h-2.3zM200.08 204.34h2.3v2.3h-2.3zM204.41 204.44h2.3v2.3h-2.3zM206.24 204.32h2.3v2.3h-2.3zM208.32 204.48h2.3v2.3h-2.3zM210.39 204.27h2.3v2.3h-2.3zM212.38 204.37h2.3v2.3h-2.3zM214.41 204.42h2.3v2.3h-2.3zM216.25 204.43h2.3v2.3h-2.3zM200.36 206.31h2.3v2.3h-2.3zM202.14 206.32h2.3v2.3h-2.3zM206.26 206.49h2.3v2.3h-2.3zM208.19 206.32h2.3v2.3h-2.3zM210.21 206.49h2.3v2.3h-2.3zM214.4 206.31h2.3v2.3h-2.3zM216.13 206.45h2.3v2.3h-2.3zM218.13 206.39h2.3v2.3h-2.3zM204.36 208.41h2.3v2.3h-2.3zM206.16 208.28h2.3v2.3h-2.3zM212.05 208.49h2.3v2.3h-2.3zM214.11 208.46h2.3v2.3h-2.3zM216.35 208.18h2.3v2.3h-2.3zM208.37 210.37h2.3v2.3h-2.3zM210.14 210.4h2.3v2.3h-2.3zM212.08 210.39h2.3v2.3h-2.3zM214.24 210.5h2.3v2.3h-2.3zM216.37 210.35h2.3v2.3h-2.3zM220.3 210.34h2.3v2.3h-2.3zM204.15 212.36h2.3v2.3h-2.3zM206.36 212.21h2.3v2.3h-2.3zM208.18 212.27h2.3v2.3h-2.3zM214.08 212.17h2.3v2.3h-2.3zM222.2 212.54h2.3v2.3h-2.3zM206.11 214.5h2.3v2.3h-2.3zM208.08 214.4h2.3v2.3h-2.3zM210.21 214.35h2.3v2.3h-2.3zM212.09 214.38h2.3v2.3h-2.3zM214.24 214.51h2.3v2.3h-2.3zM216.3 214.21h2.3v2.3h-2.3zM218.42 214.16h2.3v2.3h-2.3zM220.15 214.45h2.3v2.3h-2.3zM222.13 214.52h2.3v2.3h-2.3zM224.42 214.52h2.3v2.3h-2.3zM212.37 216.54h2.3v2.3h-2.3zM220.28 216.34h2.3v2.3h-2.3zM222.22 216.44h2.3v2.3h-2.3zM224.3 216.43h2.3v2.3h-2.3zM210.25 218.54h2.3v2.3h-2.3zM220.2 218.49h2.3v2.3h-2.3zM210.44 220.15h2.3v2.3h-2.3zM212.38 220.27h2.3v2.3h-2.3zM214.42 220.25h2.3v2.3h-2.3zM224.34 220.46h2.3v2.3h-2.3zM228.33 220.18h2.3v2.3h-2.3zM224.08 222.45h2.3v2.3h-2.3zM228.37 222.27h2.3v2.3h-2.3zM216.14 224.28h2.3v2.3h-2.3zM220.19 224.45h2.3v2.3h-2.3zM228.12 224.32h2.3v2.3h-2.3zM230.14 224.29h2.3v2.3h-2.3zM214.11 226.18h2.3v2.3h-2.3zM218.28 226.37h2.3v2.3h-2.3zM226.3 226.45h2.3v2.3h-2.3zM228.18 226.2h2.3v2.3h-2.3zM220.05 228.31h2.3v2.3h-2.3zM226.06 228.5h2.3v2.3h-2.3zM228.41 228.28h2.3v2.3h-2.3zM218.42 230.3h2.3v2.3h-2.3zM220.19 230.34h2.3v2.3h-2.3zM224.41 230.36h2.3v2.3h-2.3zM226.16 230.23h2.3v2.3h-2.3zM228.36 230.24h2.3v2.3h-2.3zM230.07 230.37h2.3v2.3h-2.3zM232.34 230.16h2.3v2.3h-2.3zM216.28 232.51h2.3v2.3h-2.3zM218.24 232.41h2.3v2.3h-2.3zM220.29 232.53h2.3v2.3h-2.3zM222.18 232.5h2.3v2.3h-2.3zM226.39 232.16h2.3v2.3h-2.3zM228.09 232.41h2.3v2.3h-2.3zM230.41 232.17h2.3v2.3h-2.3zM234.12 232.32h2.3v2.3h-2.3zM216.1 234.43h2.3v2.3h-2.3zM222.34 234.39h2.3v2.3h-2.3zM224.09 234.49h2.3v2.3h-2.3zM226.35 234.54h2.3v2.3h-2.3zM228.23 234.35h2.3v2.3h-2.3zM232.42 234.49h2.3v2.3h-2.3zM234.22 234.52h2.3v2.3h-2.3zM236.07 234.2h2.3v2.3h-2.3zM218.32 236.17h2.3v2.3h-2.3zM220.24 236.21h2.3v2.3h-2.3zM222.4 236.17h2.3v2.3h-2.3zM224.23 236.33h2.3v2.3h-2.3zM226.1 236.27h2.3v2.3h-2.3zM232.4 236.36h2.3v2.3h-2.3zM234.16 236.34h2.3v2.3h-2.3zM218.15 238.23h2.3v2.3h-2.3zM220.18 238.38h2.3v2.3h-2.3zM222.34 238.46h2.3v2.3h-2.3zM224.43 238.28h2.3v2.3h-2.3zM226.17 238.46h2.3v2.3h-2.3zM228.07 238.41h2.3v2.3h-2.3zM230.04 238.53h2.3v2.3h-2.3zM232.18 238.25h2.3v2.3h-2.3zM234.16 238.3h2.3v2.3h-2.3zM238.41 238.2h2.3v2.3h-2.3zM218.23 240.17h2.3v2.3h-2.3zM220.1 240.47h2.3v2.3h-2.3zM222.3 240.34h2.3v2.3h-2.3zM224.04 240.18h2.3v2.3h-2.3zM228.07 240.25h2.3v2.3h-2.3zM232.15 240.38h2.3v2.3h-2.3zM236.39 240.37h2.3v2.3h-2.3zM238.18 240.28h2.3v2.3h-2.3zM240.41 240.39h2.3v2.3h-2.3zM242.27 240.16h2.3v2.3h-2.3zM222.23 242.36h2.3v2.3h-2.3zM224.4 242.41h2.3v2.3h-2.3zM228.05 242.5h2.3v2.3h-2.3zM230.38 242.46h2.3v2.3h-2.3zM232.43 242.24h2.3v2.3h-2.3zM234.43 242.5h2.3v2.3h-2.3zM236.42 242.24h2.3v2.3h-2.3zM238.41 242.29h2.3v2.3h-2.3zM242.09 242.17h2.3v2.3h-2.3zM222.04 244.24h2.3v2.3h-2.3zM236.14 244.53h2.3v2.3h-2.3zM238.38 244.38h2.3v2.3h-2.3zM226.23 246.49h2.3v2.3h-2.3zM228.43 246.35h2.3v2.3h-2.3zM232.42 246.46h2.3v2.3h-2.3zM234.19 246.32h2.3v2.3h-2.3zM238.28 246.33h2.3v2.3h-2.3zM242.3 246.42h2.3v2.3h-2.3zM244.06 246.46h2.3v2.3h-2.3zM228.04 248.54h2.3v2.3h-2.3zM232.28 248.54h2.3v2.3h-2.3zM234.36 248.55h2.3v2.3h-2.3zM236.23 248.37h2.3v2.3h-2.3zM238.08 248.27h2.3v2.3h-2.3zM240.21 248.23h2.3v2.3h-2.3zM242.15 248.17h2.3v2.3h-2.3zM244.11 248.34h2.3v2.3h-2.3zM230.34 250.3h2.3v2.3h-2.3zM234.19 250.51h2.3v2.3h-2.3zM236.4 250.44h2.3v2.3h-2.3zM238.14 250.46h2.3v2.3h-2.3zM240.16 250.38h2.3v2.3h-2.3zM242.24 250.26h2.3v2.3h-2.3zM232.42 252.18h2.3v2.3h-2.3zM234.35 252.22h2.3v2.3h-2.3zM236.37 252.54h2.3v2.3h-2.3zM240.32 252.31h2.3v2.3h-2.3zM68 136.5h2.3v2.3h-2.3zM69.8 142.4h2.3v2.3h-2.3zM76.2 138.8h2.3v2.3h-2.3zM71.5 145h2.3v2.3h-2.3zM75.5 143.5h2.3v2.3h-2.3z" fill="#8e0e8e"/><path d="M164.04 126.51h2.3v2.3h-2.3zM168.1 128.47h2.3v2.3h-2.3zM172.08 134.22h2.3v2.3h-2.3zM176.27 134.2h2.3v2.3h-2.3zM80.26 136.21h2.3v2.3h-2.3zM166.15 136.18h2.3v2.3h-2.3zM168.14 136.25h2.3v2.3h-2.3zM172.13 136.27h2.3v2.3h-2.3zM178.43 136.37h2.3v2.3h-2.3zM90.06 138.29h2.3v2.3h-2.3zM92.21 140.17h2.3v2.3h-2.3zM168.32 140.17h2.3v2.3h-2.3zM96.39 142.37h2.3v2.3h-2.3zM156.4 142.2h2.3v2.3h-2.3zM180.26 142.35h2.3v2.3h-2.3zM152.11 144.39h2.3v2.3h-2.3zM164.25 144.48h2.3v2.3h-2.3zM94.07 146.36h2.3v2.3h-2.3zM102.25 146.38h2.3v2.3h-2.3zM140.3 146.37h2.3v2.3h-2.3zM154.22 146.44h2.3v2.3h-2.3zM180.41 146.29h2.3v2.3h-2.3zM152.05 148.2h2.3v2.3h-2.3zM156.3 148.38h2.3v2.3h-2.3zM160.25 148.44h2.3v2.3h-2.3zM92.13 150.34h2.3v2.3h-2.3zM100.1 150.25h2.3v2.3h-2.3zM102.38 150.43h2.3v2.3h-2.3zM140.33 150.22h2.3v2.3h-2.3zM142.15 150.25h2.3v2.3h-2.3zM146.31 150.51h2.3v2.3h-2.3zM150.38 150.54h2.3v2.3h-2.3zM162.05 150.41h2.3v2.3h-2.3zM144.43 152.24h2.3v2.3h-2.3zM150.24 152.25h2.3v2.3h-2.3zM152.34 152.41h2.3v2.3h-2.3zM174.42 152.48h2.3v2.3h-2.3zM176.35 152.45h2.3v2.3h-2.3zM188.31 152.42h2.3v2.3h-2.3zM190.34 152.16h2.3v2.3h-2.3zM98.14 154.48h2.3v2.3h-2.3zM104.34 154.54h2.3v2.3h-2.3zM132.26 154.4h2.3v2.3h-2.3zM140.1 154.26h2.3v2.3h-2.3zM146.2 154.55h2.3v2.3h-2.3zM152.22 154.17h2.3v2.3h-2.3zM178.18 154.38h2.3v2.3h-2.3zM188.18 154.24h2.3v2.3h-2.3zM192.11 154.28h2.3v2.3h-2.3zM106.32 156.44h2.3v2.3h-2.3zM108.11 156.53h2.3v2.3h-2.3zM136.08 156.51h2.3v2.3h-2.3zM140.12 156.24h2.3v2.3h-2.3zM144.26 156.38h2.3v2.3h-2.3zM148.2 156.36h2.3v2.3h-2.3zM134.39 158.25h2.3v2.3h-2.3zM136.23 158.46h2.3v2.3h-2.3zM146.23 158.28h2.3v2.3h-2.3zM190.21 158.5h2.3v2.3h-2.3zM192.31 158.3h2.3v2.3h-2.3zM194.32 158.39h2.3v2.3h-2.3zM98.14 160.39h2.3v2.3h-2.3zM104.13 160.17h2.3v2.3h-2.3zM120.31 160.41h2.3v2.3h-2.3zM126.04 160.45h2.3v2.3h-2.3zM130.38 160.42h2.3v2.3h-2.3zM138.13 160.53h2.3v2.3h-2.3zM140.16 160.28h2.3v2.3h-2.3zM182.1 160.4h2.3v2.3h-2.3zM190.22 160.41h2.3v2.3h-2.3zM106.31 162.45h2.3v2.3h-2.3zM124.04 162.38h2.3v2.3h-2.3zM126.04 162.23h2.3v2.3h-2.3zM130.17 162.36h2.3v2.3h-2.3zM188.36 162.44h2.3v2.3h-2.3zM190.12 162.39h2.3v2.3h-2.3zM134.32 164.28h2.3v2.3h-2.3zM188.43 164.29h2.3v2.3h-2.3zM198.27 164.33h2.3v2.3h-2.3zM102.19 166.44h2.3v2.3h-2.3zM116.13 166.28h2.3v2.3h-2.3zM120.32 166.32h2.3v2.3h-2.3zM130.24 166.36h2.3v2.3h-2.3zM132.25 166.18h2.3v2.3h-2.3zM190.23 166.4h2.3v2.3h-2.3zM192.35 166.52h2.3v2.3h-2.3zM194.2 166.41h2.3v2.3h-2.3zM122.42 168.47h2.3v2.3h-2.3zM178.34 168.3h2.3v2.3h-2.3zM180.13 168.42h2.3v2.3h-2.3zM106.32 170.34h2.3v2.3h-2.3zM116.36 170.48h2.3v2.3h-2.3zM118.12 170.37h2.3v2.3h-2.3zM190.04 170.53h2.3v2.3h-2.3zM108.23 172.31h2.3v2.3h-2.3zM110.11 172.16h2.3v2.3h-2.3zM114.1 172.44h2.3v2.3h-2.3zM120.24 172.16h2.3v2.3h-2.3zM182.25 172.45h2.3v2.3h-2.3zM184.08 172.46h2.3v2.3h-2.3zM118.11 174.33h2.3v2.3h-2.3zM174.36 174.17h2.3v2.3h-2.3zM182.36 176.29h2.3v2.3h-2.3zM184.19 178.22h2.3v2.3h-2.3zM186.41 178.39h2.3v2.3h-2.3zM206.09 186.54h2.3v2.3h-2.3zM204.16 188.35h2.3v2.3h-2.3zM208.24 190.44h2.3v2.3h-2.3zM210.37 194.46h2.3v2.3h-2.3zM210.22 198.32h2.3v2.3h-2.3zM200.12 200.48h2.3v2.3h-2.3zM208.19 202.16h2.3v2.3h-2.3zM212.08 202.48h2.3v2.3h-2.3zM202.39 204.36h2.3v2.3h-2.3zM204.14 206.34h2.3v2.3h-2.3zM212.09 206.49h2.3v2.3h-2.3zM202.41 208.48h2.3v2.3h-2.3zM208.04 208.36h2.3v2.3h-2.3zM210.11 208.49h2.3v2.3h-2.3zM218.42 208.33h2.3v2.3h-2.3zM206.24 210.16h2.3v2.3h-2.3zM218.14 210.55h2.3v2.3h-2.3zM210.36 212.53h2.3v2.3h-2.3zM216.04 212.41h2.3v2.3h-2.3zM218.42 212.3h2.3v2.3h-2.3zM208.14 216.19h2.3v2.3h-2.3zM214.13 216.21h2.3v2.3h-2.3zM208.1 218.44h2.3v2.3h-2.3zM214.27 218.36h2.3v2.3h-2.3zM218.27 218.2h2.3v2.3h-2.3zM220.22 220.16h2.3v2.3h-2.3zM222.27 220.4h2.3v2.3h-2.3zM212.23 222.37h2.3v2.3h-2.3zM220.35 222.21h2.3v2.3h-2.3zM226.42 222.45h2.3v2.3h-2.3zM224.28 224.34h2.3v2.3h-2.3zM222.17 228.34h2.3v2.3h-2.3zM230.35 228.5h2.3v2.3h-2.3zM224.41 232.26h2.3v2.3h-2.3zM218.35 234.37h2.3v2.3h-2.3zM220.41 234.25h2.3v2.3h-2.3zM230.07 234.38h2.3v2.3h-2.3zM230.42 236.42h2.3v2.3h-2.3zM236.27 236.48h2.3v2.3h-2.3zM236.4 238.18h2.3v2.3h-2.3zM240.38 238.23h2.3v2.3h-2.3zM226.37 240.51h2.3v2.3h-2.3zM230.08 240.36h2.3v2.3h-2.3zM234.18 240.19h2.3v2.3h-2.3zM240.29 242.15h2.3v2.3h-2.3zM224.26 244.3h2.3v2.3h-2.3zM226.13 244.5h2.3v2.3h-2.3zM228.38 244.37h2.3v2.3h-2.3zM230.2 244.25h2.3v2.3h-2.3zM232.28 244.16h2.3v2.3h-2.3zM234.18 244.27h2.3v2.3h-2.3zM240.4 244.4h2.3v2.3h-2.3zM242.26 244.54h2.3v2.3h-2.3zM224.19 246.23h2.3v2.3h-2.3zM230.39 246.18h2.3v2.3h-2.3zM236.26 246.16h2.3v2.3h-2.3zM240.31 246.4h2.3v2.3h-2.3zM226.4 248.16h2.3v2.3h-2.3zM230.31 248.5h2.3v2.3h-2.3zM232.08 250.37h2.3v2.3h-2.3zM238.43 252.35h2.3v2.3h-2.3zM242.37 252.24h2.3v2.3h-2.3zM234.33 254.38h2.3v2.3h-2.3zM236.32 254.32h2.3v2.3h-2.3zM73.6 140.4h2.3v2.3h-2.3zM72.6 137.6h2.3v2.3h-2.3z" fill="#fdf1f0"/></g>
<g transform="translate(0,0)" fill="none">
<circle cx="95" cy="146.7" r="17.3" stroke="#e8572a" stroke-width="1.35" stroke-dasharray="0.01 2.25" stroke-linecap="round"/>
<circle cx="175.3" cy="134.5" r="17.2" stroke="#e8572a" stroke-width="1.35" stroke-dasharray="0.01 2.25" stroke-linecap="round"/>
<circle cx="72" cy="141" r="6.2" stroke="#666" stroke-width="1" stroke-dasharray="0.01 1.6" stroke-linecap="round"/>
</g>
<g transform="translate(273.3,0)" fill="none">
<circle cx="95" cy="146.7" r="17.3" stroke="#e8572a" stroke-width="1.35" stroke-dasharray="0.01 2.25" stroke-linecap="round"/>
<circle cx="175.3" cy="134.5" r="17.2" stroke="#e8572a" stroke-width="1.35" stroke-dasharray="0.01 2.25" stroke-linecap="round"/>
<circle cx="72" cy="141" r="6.2" stroke="#666" stroke-width="1" stroke-dasharray="0.01 1.6" stroke-linecap="round"/>
</g>
<g transform="translate(0,0)" font-family="Liberation Sans, sans-serif">
<rect x="73" y="117" width="44" height="9.5" fill="#fff"/>
<rect x="144.5" y="105.5" width="56" height="9.5" fill="#fff"/>
<rect x="35.5" y="138" width="29.5" height="7.5" fill="#fff"/>
<rect x="204" y="169" width="27" height="8.5" fill="#fff"/>
<text x="74.4" y="124.8" font-size="8.8" fill="#1e1e1e" stroke="#1e1e1e" stroke-width="0.3" textLength="40.6" lengthAdjust="spacingAndGlyphs">Henderson</text>
<text x="146.1" y="113.4" font-size="8.8" fill="#1e1e1e" stroke="#1e1e1e" stroke-width="0.3" textLength="52.7" lengthAdjust="spacingAndGlyphs">Auckland CBD</text>
<text x="36.3" y="144.2" font-size="6.7" font-weight="bold" fill="#111" stroke="#111" stroke-width="0.4" textLength="27.6" lengthAdjust="spacingAndGlyphs">Swanson</text>
<text x="204.9" y="175.1" font-size="6.9" font-weight="bold" fill="#111" stroke="#111" stroke-width="0.4" textLength="24.9" lengthAdjust="spacingAndGlyphs">Penrose</text>
</g>
<g transform="translate(273.3,0)" font-family="Liberation Sans, sans-serif">
<rect x="73" y="117" width="44" height="9.5" fill="#fff"/>
<rect x="144.5" y="105.5" width="56" height="9.5" fill="#fff"/>
<rect x="35.5" y="138" width="29.5" height="7.5" fill="#fff"/>
<rect x="204" y="169" width="27" height="8.5" fill="#fff"/>
<text x="74.4" y="124.8" font-size="8.8" fill="#1e1e1e" stroke="#1e1e1e" stroke-width="0.3" textLength="40.6" lengthAdjust="spacingAndGlyphs">Henderson</text>
<text x="146.1" y="113.4" font-size="8.8" fill="#1e1e1e" stroke="#1e1e1e" stroke-width="0.3" textLength="52.7" lengthAdjust="spacingAndGlyphs">Auckland CBD</text>
<text x="36.3" y="144.2" font-size="6.7" font-weight="bold" fill="#111" stroke="#111" stroke-width="0.4" textLength="27.6" lengthAdjust="spacingAndGlyphs">Swanson</text>
<text x="204.9" y="175.1" font-size="6.9" font-weight="bold" fill="#111" stroke="#111" stroke-width="0.4" textLength="24.9" lengthAdjust="spacingAndGlyphs">Penrose</text>
</g>
<g font-family="Liberation Sans, sans-serif">
<rect x="196.2" y="49.5" width="41.4" height="35.6" fill="#fff" stroke="#c8c8c8" stroke-width="0.5"/>
<text x="199.4" y="55.8" font-size="4.8" fill="#111" stroke="#111" stroke-width="0.07" textLength="25" lengthAdjust="spacingAndGlyphs">Local Trip %</text>
<rect x="200" y="59.4" width="3.4" height="4.6" fill="#feebe2"/>
<rect x="200" y="64" width="3.4" height="4.6" fill="#fbb4b9"/>
<rect x="200" y="68.6" width="3.4" height="4.6" fill="#f768a1"/>
<rect x="200" y="73.2" width="3.4" height="4.6" fill="#c51b8a"/>
<rect x="200" y="77.8" width="3.4" height="4.6" fill="#7a0177"/>
<g font-size="4.3" fill="#111" stroke="#111" stroke-width="0.07">
<text x="205.2" y="63.5" textLength="25.8" lengthAdjust="spacingAndGlyphs">0.002 to 0.420</text>
<text x="205.2" y="68.1" textLength="25.8" lengthAdjust="spacingAndGlyphs">0.420 to 0.511</text>
<text x="205.2" y="72.7" textLength="25.8" lengthAdjust="spacingAndGlyphs">0.511 to 0.578</text>
<text x="205.2" y="77.3" textLength="25.8" lengthAdjust="spacingAndGlyphs">0.578 to 0.649</text>
<text x="205.2" y="81.9" textLength="25.8" lengthAdjust="spacingAndGlyphs">0.649 to 1.000</text>
</g></g>
<g font-family="Liberation Sans, sans-serif">
<rect x="469.5" y="40.2" width="44.4" height="21.8" fill="#fff" stroke="#c8c8c8" stroke-width="0.5"/>
<rect x="472.8" y="44.1" width="7.8" height="5.2" fill="#fde4e0"/>
<rect x="473" y="52.5" width="7.4" height="3.9" fill="#951591"/>
<text x="481.9" y="48.6" font-size="6.6" fill="#1a1a1a" stroke="#1a1a1a" stroke-width="0.1" textLength="25.2" lengthAdjust="spacingAndGlyphs">Communter</text>
<text x="481.9" y="56.5" font-size="6.6" fill="#1a1a1a" stroke="#1a1a1a" stroke-width="0.1" textLength="11.2" lengthAdjust="spacingAndGlyphs">Local</text>
</g>
<text x="3" y="11.7" font-family="Liberation Sans, sans-serif" font-size="11" fill="#111" stroke="#111" stroke-width="0.4">A</text>
<text x="291.3" y="11.9" font-family="Liberation Sans, sans-serif" font-size="11.2" fill="#111" stroke="#111" stroke-width="0.4" textLength="6.6" lengthAdjust="spacingAndGlyphs">B</text>
</svg>
</body></html>
